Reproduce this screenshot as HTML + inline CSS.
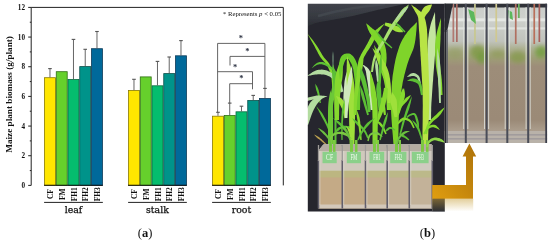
<!DOCTYPE html><html><head><meta charset="utf-8"><style>html,body{margin:0;padding:0;background:#fff;}svg{display:block;}</style></head><body>
<svg width="550" height="243" viewBox="0 0 550 243">
<rect width="550" height="243" fill="#fff"/>
<g stroke-width="0.8">
<rect x="44.50" y="77.70" width="10.95" height="107.70" fill="#FFE600" stroke="#8a7a00"/>
<rect x="56.25" y="71.70" width="10.95" height="113.70" fill="#66D02C" stroke="#2f6e14"/>
<rect x="68.00" y="79.50" width="10.95" height="105.90" fill="#05BD6E" stroke="#0a6a40"/>
<rect x="79.75" y="66.60" width="10.95" height="118.80" fill="#00938A" stroke="#0a4f4a"/>
<rect x="91.50" y="48.70" width="10.95" height="136.70" fill="#00699A" stroke="#0d3a58"/>
<rect x="128.50" y="90.50" width="10.95" height="94.90" fill="#FFE600" stroke="#8a7a00"/>
<rect x="140.25" y="76.90" width="10.95" height="108.50" fill="#66D02C" stroke="#2f6e14"/>
<rect x="152.00" y="85.80" width="10.95" height="99.60" fill="#05BD6E" stroke="#0a6a40"/>
<rect x="163.75" y="73.60" width="10.95" height="111.80" fill="#00938A" stroke="#0a4f4a"/>
<rect x="175.50" y="55.80" width="10.95" height="129.60" fill="#00699A" stroke="#0d3a58"/>
<rect x="212.50" y="116.20" width="10.95" height="69.20" fill="#FFE600" stroke="#8a7a00"/>
<rect x="224.25" y="115.50" width="10.95" height="69.90" fill="#66D02C" stroke="#2f6e14"/>
<rect x="236.00" y="111.80" width="10.95" height="73.60" fill="#05BD6E" stroke="#0a6a40"/>
<rect x="247.75" y="100.50" width="10.95" height="84.90" fill="#00938A" stroke="#0a4f4a"/>
<rect x="259.50" y="98.50" width="10.95" height="86.90" fill="#00699A" stroke="#0d3a58"/>
</g>
<g stroke="#111" stroke-width="1.1">
<line x1="44.10" y1="185.2" x2="102.85" y2="185.2"/>
<line x1="128.10" y1="185.2" x2="186.85" y2="185.2"/>
<line x1="212.10" y1="185.2" x2="270.85" y2="185.2"/>
</g>
<g stroke="#555" stroke-width="0.9" fill="none">
<line x1="49.98" y1="77.30" x2="49.98" y2="68.60"/>
<line x1="48.18" y1="68.60" x2="51.77" y2="68.60" stroke-width="1.1"/>
<line x1="73.47" y1="79.10" x2="73.47" y2="39.40"/>
<line x1="71.67" y1="39.40" x2="75.27" y2="39.40" stroke-width="1.1"/>
<line x1="85.22" y1="66.20" x2="85.22" y2="49.30"/>
<line x1="83.42" y1="49.30" x2="87.02" y2="49.30" stroke-width="1.1"/>
<line x1="96.97" y1="48.30" x2="96.97" y2="31.50"/>
<line x1="95.17" y1="31.50" x2="98.77" y2="31.50" stroke-width="1.1"/>
<line x1="133.97" y1="90.10" x2="133.97" y2="79.30"/>
<line x1="132.17" y1="79.30" x2="135.78" y2="79.30" stroke-width="1.1"/>
<line x1="157.47" y1="85.40" x2="157.47" y2="61.40"/>
<line x1="155.67" y1="61.40" x2="159.28" y2="61.40" stroke-width="1.1"/>
<line x1="169.22" y1="73.20" x2="169.22" y2="57.00"/>
<line x1="167.42" y1="57.00" x2="171.03" y2="57.00" stroke-width="1.1"/>
<line x1="180.97" y1="55.40" x2="180.97" y2="40.60"/>
<line x1="179.17" y1="40.60" x2="182.78" y2="40.60" stroke-width="1.1"/>
<line x1="217.97" y1="115.80" x2="217.97" y2="112.30"/>
<line x1="216.17" y1="112.30" x2="219.78" y2="112.30" stroke-width="1.1"/>
<line x1="229.72" y1="115.10" x2="229.72" y2="103.10"/>
<line x1="227.92" y1="103.10" x2="231.53" y2="103.10" stroke-width="1.1"/>
<line x1="241.47" y1="111.40" x2="241.47" y2="106.20"/>
<line x1="239.67" y1="106.20" x2="243.28" y2="106.20" stroke-width="1.1"/>
<line x1="253.22" y1="100.10" x2="253.22" y2="95.40"/>
<line x1="251.42" y1="95.40" x2="255.03" y2="95.40" stroke-width="1.1"/>
<line x1="264.98" y1="98.10" x2="264.98" y2="88.40"/>
<line x1="263.18" y1="88.40" x2="266.78" y2="88.40" stroke-width="1.1"/>
</g>
<g stroke="#222" stroke-width="1" fill="none">
<path d="M31.2,185.4 V7.4 H283.3 V185.4"/>
<line x1="28.2" y1="185.40" x2="31.2" y2="185.40"/>
<line x1="29.8" y1="170.57" x2="31.2" y2="170.57"/>
<line x1="28.2" y1="155.73" x2="31.2" y2="155.73"/>
<line x1="29.8" y1="140.90" x2="31.2" y2="140.90"/>
<line x1="28.2" y1="126.07" x2="31.2" y2="126.07"/>
<line x1="29.8" y1="111.23" x2="31.2" y2="111.23"/>
<line x1="28.2" y1="96.40" x2="31.2" y2="96.40"/>
<line x1="29.8" y1="81.57" x2="31.2" y2="81.57"/>
<line x1="28.2" y1="66.73" x2="31.2" y2="66.73"/>
<line x1="29.8" y1="51.90" x2="31.2" y2="51.90"/>
<line x1="28.2" y1="37.07" x2="31.2" y2="37.07"/>
<line x1="29.8" y1="22.23" x2="31.2" y2="22.23"/>
<line x1="28.2" y1="7.40" x2="31.2" y2="7.40"/>
</g>
<g font-family="Liberation Serif, serif" font-weight="bold" font-size="7.2" fill="#111" text-anchor="end">
<text x="25.0" y="187.90">0</text>
<text x="25.0" y="158.23">2</text>
<text x="25.0" y="128.57">4</text>
<text x="25.0" y="98.90">6</text>
<text x="25.0" y="69.23">8</text>
<text x="25.0" y="39.57">10</text>
<text x="25.0" y="9.90">12</text>
</g>
<text transform="translate(11.9,94.4) rotate(-90)" text-anchor="middle" font-family="Liberation Serif, serif" font-weight="bold" font-size="9.2" fill="#111">Maize plant biomass (g/plant)</text>
<g font-family="Liberation Serif, serif" font-weight="bold" font-size="7.4" fill="#111" text-anchor="middle">
<text transform="translate(53.08,194.2) rotate(-90)">CF</text>
<text transform="translate(64.83,194.2) rotate(-90)">FM</text>
<text transform="translate(76.57,194.2) rotate(-90)">FH1</text>
<text transform="translate(88.32,194.2) rotate(-90)">FH2</text>
<text transform="translate(100.07,194.2) rotate(-90)">FH3</text>
<text transform="translate(137.07,194.2) rotate(-90)">CF</text>
<text transform="translate(148.82,194.2) rotate(-90)">FM</text>
<text transform="translate(160.57,194.2) rotate(-90)">FH1</text>
<text transform="translate(172.32,194.2) rotate(-90)">FH2</text>
<text transform="translate(184.07,194.2) rotate(-90)">FH3</text>
<text transform="translate(221.07,194.2) rotate(-90)">CF</text>
<text transform="translate(232.82,194.2) rotate(-90)">FM</text>
<text transform="translate(244.57,194.2) rotate(-90)">FH1</text>
<text transform="translate(256.32,194.2) rotate(-90)">FH2</text>
<text transform="translate(268.08,194.2) rotate(-90)">FH3</text>
</g>
<g stroke="#222" stroke-width="1">
<line x1="44.10" y1="202.4" x2="102.85" y2="202.4"/>
<line x1="128.10" y1="202.4" x2="186.85" y2="202.4"/>
<line x1="212.10" y1="202.4" x2="270.85" y2="202.4"/>
</g>
<g font-family="DejaVu Serif, serif" font-size="9.4" fill="#111" stroke="#111" stroke-width="0.25" text-anchor="middle">
<text x="73.47" y="212.6">leaf</text>
<text x="157.47" y="212.6">stalk</text>
<text x="241.47" y="212.6">root</text>
</g>
<text x="222.9" y="15.9" font-family="Liberation Serif, serif" font-size="6.72" fill="#111">* Represents <tspan font-style="italic">p</tspan> &lt; 0.05</text>
<g stroke="#555" stroke-width="0.9" fill="none">
<path d="M217.6,112.3 V43.4 H264.9 V88.4"/>
<path d="M230.0,65.5 V56.4 H264.9"/>
<path d="M217.6,71.7 H252.5 V89.3"/>
<path d="M229.7,103.1 V83.7 H252.5"/>
</g>
<g font-family="Liberation Serif, serif" font-weight="bold" font-size="8.5" fill="#2a3040" text-anchor="middle">
<text x="240.8" y="41.0">*</text>
<text x="247.3" y="54.1">*</text>
<text x="235.1" y="69.5">*</text>
<text x="241.3" y="80.8">*</text>
</g>
<text x="137.8" y="237" font-family="Liberation Serif, serif" font-size="12.5" fill="#111">(<tspan font-weight="bold">a</tspan>)</text>
<text x="419.8" y="237" font-family="Liberation Serif, serif" font-size="12.5" fill="#111">(<tspan font-weight="bold">b</tspan>)</text>
<defs><clipPath id="cm"><rect x="307.8" y="3.7" width="137" height="207.8"/></clipPath><clipPath id="ci"><rect x="444.6" y="3.7" width="102.5" height="139.2"/></clipPath><linearGradient id="refl" x1="0" y1="0" x2="0" y2="1"><stop offset="0" stop-color="#e3cf9c"/><stop offset="1" stop-color="#ffffff"/></linearGradient><linearGradient id="refl2" x1="0" y1="0" x2="0" y2="1"><stop offset="0" stop-color="#7a6535"/><stop offset="1" stop-color="#2c2e33"/></linearGradient><linearGradient id="soil" x1="0" y1="0" x2="0" y2="1"><stop offset="0" stop-color="#cfc9bf"/><stop offset="0.3" stop-color="#c9c2b2"/><stop offset="0.42" stop-color="#bdb684"/><stop offset="0.55" stop-color="#c5b58e"/><stop offset="1" stop-color="#c2aa7e"/></linearGradient><linearGradient id="fold" x1="0" y1="0" x2="0" y2="1"><stop offset="0" stop-color="#41444c"/><stop offset="0.6" stop-color="#363940"/><stop offset="1" stop-color="#2a2c32"/></linearGradient><linearGradient id="arr" x1="1" y1="0" x2="0" y2="1"><stop offset="0" stop-color="#ad7209"/><stop offset="0.5" stop-color="#c4860c"/><stop offset="1" stop-color="#e09e10"/></linearGradient><linearGradient id="insg" x1="0" y1="3" x2="0" y2="144" gradientUnits="userSpaceOnUse"><stop offset="0" stop-color="#c9ccc8"/><stop offset="0.11" stop-color="#ced1cd"/><stop offset="0.27" stop-color="#c0c3bc"/><stop offset="0.32" stop-color="#aeb295"/><stop offset="0.39" stop-color="#9f9e78"/><stop offset="0.45" stop-color="#9d8d79"/><stop offset="0.83" stop-color="#9b8a77"/><stop offset="0.9" stop-color="#aa9c8b"/><stop offset="1" stop-color="#b5ada3"/></linearGradient><filter id="bl" x="-5%" y="-5%" width="110%" height="110%"><feGaussianBlur stdDeviation="0.45"/></filter><filter id="bl2" x="-50%" y="-50%" width="200%" height="200%"><feGaussianBlur stdDeviation="2.2"/></filter></defs>
<g clip-path="url(#cm)"><g filter="url(#bl)">
<rect x="307" y="3" width="140" height="210" fill="#25272d"/>
<path d="M307,3 H410 C395,6 380,9 365,13 C350,17 335,19 320,22 C314,23 310,25 307,27 Z" fill="url(#fold)"/>
<path d="M318,16 C335,11 355,7 385,4" stroke="#4a4e57" stroke-width="2.5" fill="none" opacity="0.6"/>
<path d="M333.0,51.0 L332.9,51.7 L332.8,52.6 L332.6,53.7 L332.5,54.9 L332.4,56.2 L332.4,57.5 L332.4,58.8 L332.4,60.0 L332.4,61.3 L332.5,62.7 L332.5,64.1 L332.5,65.6 L332.5,66.9 L332.6,68.2 L332.6,69.2 L332.6,70.0 L333.4,70.0 L333.4,69.2 L333.4,68.2 L333.5,66.9 L333.5,65.6 L333.5,64.1 L333.5,62.7 L333.6,61.3 L333.6,60.0 L333.6,58.8 L333.6,57.5 L333.6,56.2 L333.5,54.9 L333.4,53.7 L333.2,52.6 L333.1,51.7 L333.0,51.0Z" fill="#71907a"/>
<path d="M307.0,33.0 L307.5,34.0 L308.3,35.3 L309.2,36.8 L310.1,38.5 L311.2,40.4 L312.2,42.2 L313.2,43.9 L314.1,45.6 L314.9,47.1 L315.7,48.7 L316.6,50.3 L317.4,51.8 L318.2,53.4 L319.1,54.9 L319.9,56.4 L320.8,57.8 L321.8,59.1 L322.8,60.3 L323.7,61.3 L324.7,62.3 L325.5,63.3 L326.4,64.3 L327.1,65.4 L327.8,66.6 L328.4,68.0 L329.0,69.5 L329.6,71.1 L330.2,72.7 L330.6,74.4 L331.1,76.2 L331.4,78.1 L331.7,80.1 L331.9,82.4 L332.0,85.1 L332.0,87.9 L332.0,90.8 L331.9,93.7 L331.8,96.2 L331.8,98.4 L331.8,100.0 L334.2,100.0 L334.3,98.4 L334.4,96.3 L334.4,93.7 L334.5,90.9 L334.6,87.9 L334.6,85.0 L334.5,82.3 L334.3,79.9 L334.0,77.7 L333.6,75.7 L333.2,73.8 L332.7,71.9 L332.2,70.2 L331.6,68.5 L330.9,66.9 L330.2,65.4 L329.4,63.9 L328.6,62.7 L327.6,61.5 L326.7,60.4 L325.8,59.4 L324.9,58.4 L324.0,57.4 L323.2,56.2 L322.3,54.9 L321.5,53.5 L320.6,52.0 L319.7,50.5 L318.8,49.0 L317.9,47.5 L316.9,45.9 L315.9,44.4 L314.8,42.9 L313.6,41.3 L312.3,39.6 L311.0,38.0 L309.8,36.4 L308.6,35.0 L307.7,33.9 L307.0,33.0Z" fill="#86d92e"/>
<path d="M311.4,68.4 L311.9,68.1 L312.5,67.7 L313.3,67.2 L314.1,66.6 L315.0,66.0 L315.9,65.5 L316.7,65.1 L317.4,64.8 L318.1,64.6 L318.7,64.5 L319.3,64.3 L320.0,64.3 L320.6,64.2 L321.2,64.3 L321.8,64.3 L322.5,64.5 L323.3,64.7 L324.1,65.0 L325.0,65.3 L325.9,65.8 L326.8,66.3 L327.7,66.8 L328.6,67.3 L329.4,67.9 L330.2,68.4 L331.0,68.9 L331.7,69.5 L332.4,70.1 L333.1,70.7 L333.7,71.3 L334.2,72.0 L334.7,72.7 L335.2,73.5 L335.6,74.4 L336.0,75.5 L336.3,76.6 L336.6,77.7 L336.9,78.7 L337.1,79.6 L337.3,80.2 L338.7,79.8 L338.5,79.2 L338.3,78.4 L338.1,77.3 L337.9,76.2 L337.5,75.0 L337.2,73.9 L336.8,72.7 L336.3,71.7 L335.7,70.9 L335.1,70.1 L334.4,69.3 L333.7,68.6 L332.9,68.0 L332.2,67.3 L331.4,66.7 L330.6,66.1 L329.8,65.6 L328.9,65.0 L327.9,64.4 L326.9,63.8 L326.0,63.3 L325.0,62.8 L324.0,62.4 L323.1,62.1 L322.2,62.0 L321.3,61.9 L320.5,61.9 L319.6,62.0 L318.9,62.2 L318.1,62.5 L317.4,62.8 L316.6,63.2 L315.8,63.7 L315.0,64.4 L314.3,65.1 L313.5,65.9 L312.9,66.7 L312.3,67.4 L311.8,68.0 L311.4,68.4Z" fill="#5cbf34"/>
<path d="M315.2,83.6 L315.3,84.3 L315.4,85.2 L315.5,86.2 L315.7,87.4 L315.9,88.6 L316.2,89.9 L316.6,91.1 L317.0,92.3 L317.4,93.6 L317.7,95.0 L318.1,96.6 L318.5,98.2 L318.9,99.7 L319.2,101.1 L319.4,102.3 L319.7,103.1 L320.9,102.9 L320.8,102.0 L320.6,100.8 L320.4,99.4 L320.1,97.9 L319.9,96.2 L319.6,94.6 L319.3,93.1 L319.0,91.7 L318.7,90.5 L318.3,89.2 L317.8,88.0 L317.2,86.8 L316.6,85.8 L316.1,84.9 L315.6,84.2 L315.2,83.6Z" fill="#5cbf34"/>
<path d="M316.3,106.3 L316.6,107.0 L317.1,107.9 L317.6,108.9 L318.3,110.1 L318.9,111.4 L319.6,112.7 L320.3,114.1 L321.0,115.5 L321.8,117.1 L322.8,118.7 L323.8,120.5 L324.7,122.3 L325.7,124.2 L326.6,126.0 L327.3,127.7 L327.9,129.3 L328.4,130.8 L328.7,132.3 L328.9,133.9 L329.0,135.4 L329.1,136.8 L329.2,138.1 L329.2,139.2 L329.3,140.0 L330.7,140.0 L330.7,139.1 L330.6,138.1 L330.6,136.8 L330.6,135.3 L330.5,133.8 L330.4,132.1 L330.1,130.4 L329.7,128.7 L329.1,127.0 L328.4,125.2 L327.5,123.3 L326.6,121.4 L325.7,119.5 L324.7,117.7 L323.8,116.0 L323.0,114.5 L322.1,113.1 L321.1,111.8 L320.1,110.6 L319.2,109.5 L318.3,108.5 L317.5,107.6 L316.8,106.9 L316.3,106.3Z" fill="#5cbf34"/>
<path d="M330.5,90.0 L330.1,92.3 L329.5,95.4 L328.9,99.1 L328.4,103.2 L328.1,107.6 L328.0,111.9 L328.0,116.1 L328.0,120.0 L328.0,123.8 L328.0,127.8 L328.0,131.9 L328.0,135.9 L328.0,139.6 L328.0,143.0 L328.0,145.9 L328.0,148.0 L333.0,148.0 L333.0,145.9 L333.0,143.0 L333.0,139.6 L333.0,135.9 L333.0,131.9 L333.0,127.8 L333.0,123.8 L333.0,120.0 L333.0,116.1 L333.0,111.9 L332.9,107.6 L332.6,103.2 L332.1,99.1 L331.5,95.4 L330.9,92.3 L330.5,90.0Z" fill="#6cc935"/>
<path d="M335.5,100.0 L335.3,101.9 L335.1,104.5 L334.8,107.6 L334.6,111.1 L334.5,114.7 L334.5,118.3 L334.5,121.8 L334.5,125.0 L334.5,128.1 L334.5,131.4 L334.5,134.8 L334.5,138.1 L334.5,141.1 L334.5,143.9 L334.5,146.2 L334.5,148.0 L336.5,148.0 L336.5,146.2 L336.5,143.9 L336.5,141.1 L336.5,138.1 L336.5,134.8 L336.5,131.4 L336.5,128.1 L336.5,125.0 L336.5,121.8 L336.5,118.3 L336.5,114.7 L336.4,111.1 L336.2,107.6 L335.9,104.5 L335.7,101.9 L335.5,100.0Z" fill="#5cbf34"/>
<path d="M307.0,76.0 L307.9,75.9 L309.1,75.6 L310.6,75.4 L312.1,75.1 L313.8,74.8 L315.3,74.6 L316.8,74.4 L318.0,74.3 L319.2,74.3 L320.4,74.3 L321.5,74.4 L322.7,74.5 L323.8,74.6 L324.9,74.8 L326.0,75.1 L327.1,75.4 L328.3,76.0 L329.6,76.6 L330.9,77.4 L332.2,78.2 L333.4,79.1 L334.6,80.1 L335.7,81.1 L336.5,82.1 L337.3,83.1 L337.9,84.4 L338.5,85.9 L339.1,87.4 L339.6,88.9 L340.0,90.3 L340.3,91.5 L340.6,92.4 L343.4,91.6 L343.1,90.7 L342.9,89.6 L342.6,88.1 L342.2,86.5 L341.7,84.8 L341.1,83.1 L340.4,81.4 L339.5,79.9 L338.4,78.6 L337.2,77.3 L336.0,76.1 L334.6,75.0 L333.2,73.9 L331.7,72.9 L330.3,72.1 L328.9,71.4 L327.5,70.8 L326.0,70.3 L324.6,69.9 L323.1,69.7 L321.7,69.6 L320.3,69.7 L318.8,69.8 L317.4,70.1 L315.9,70.5 L314.3,71.2 L312.7,72.1 L311.3,73.0 L309.9,73.9 L308.7,74.8 L307.7,75.5 L307.0,76.0Z" fill="#b3dca0"/>
<path d="M323.0,96.0 L322.3,95.9 L321.5,95.7 L320.4,95.6 L319.3,95.5 L318.1,95.5 L316.9,95.5 L315.7,95.7 L314.7,95.9 L313.6,96.2 L312.5,96.4 L311.4,96.7 L310.3,97.0 L309.2,97.3 L308.2,97.5 L307.3,97.8 L306.5,98.0 L305.8,98.3 L305.2,98.6 L304.7,98.8 L304.2,99.1 L303.9,99.3 L303.6,99.5 L303.4,99.6 L303.3,99.7 L304.7,102.3 L305.0,102.2 L305.2,102.0 L305.5,101.8 L305.8,101.7 L306.1,101.5 L306.4,101.3 L306.9,101.1 L307.5,101.0 L308.2,100.7 L309.0,100.5 L310.0,100.3 L311.1,100.0 L312.1,99.8 L313.2,99.5 L314.3,99.3 L315.3,99.1 L316.4,98.8 L317.5,98.6 L318.6,98.2 L319.7,97.8 L320.7,97.3 L321.7,96.8 L322.4,96.3 L323.0,96.0Z" fill="#b3dca0"/>
<path d="M327.6,96.0 L327.0,96.0 L326.1,95.9 L325.1,95.9 L324.0,95.8 L322.8,95.8 L321.5,95.8 L320.3,96.0 L319.1,96.3 L318.1,96.6 L317.0,97.1 L316.0,97.6 L315.1,98.2 L314.1,98.8 L313.2,99.5 L312.4,100.2 L311.6,101.0 L310.8,101.9 L310.1,102.8 L309.5,103.8 L309.0,104.8 L308.4,105.7 L308.0,106.7 L307.5,107.7 L307.0,108.7 L306.6,109.7 L306.1,110.8 L305.7,111.9 L305.3,113.0 L304.9,114.0 L304.6,115.1 L304.3,116.0 L303.9,116.9 L303.6,117.8 L303.3,118.7 L303.0,119.6 L302.7,120.5 L302.5,121.3 L302.2,122.0 L302.1,122.5 L301.9,123.0 L308.1,125.0 L308.2,124.6 L308.4,124.0 L308.7,123.3 L308.9,122.5 L309.2,121.7 L309.5,120.8 L309.8,120.0 L310.1,119.1 L310.4,118.2 L310.7,117.2 L311.1,116.2 L311.4,115.2 L311.8,114.2 L312.2,113.2 L312.6,112.2 L313.0,111.3 L313.4,110.5 L313.8,109.6 L314.2,108.7 L314.7,107.9 L315.1,107.1 L315.5,106.4 L316.0,105.7 L316.4,105.0 L316.9,104.3 L317.4,103.6 L317.9,102.9 L318.5,102.2 L319.1,101.6 L319.6,100.9 L320.3,100.3 L320.9,99.7 L321.5,99.2 L322.4,98.6 L323.4,98.1 L324.4,97.6 L325.4,97.1 L326.3,96.7 L327.0,96.3 L327.6,96.0Z" fill="#b3dca0"/>
<path d="M314.0,134.6 L314.4,135.0 L314.9,135.6 L315.5,136.3 L316.2,137.0 L317.0,137.7 L317.8,138.4 L318.6,139.0 L319.5,139.6 L320.3,140.3 L321.2,141.1 L322.2,141.9 L323.2,142.7 L324.1,143.5 L324.9,144.2 L325.6,144.8 L326.1,145.2 L326.9,144.4 L326.4,143.9 L325.7,143.3 L324.9,142.5 L324.1,141.7 L323.2,140.8 L322.2,139.9 L321.4,139.1 L320.5,138.4 L319.7,137.7 L318.9,137.0 L317.9,136.4 L317.0,135.9 L316.1,135.4 L315.3,135.1 L314.5,134.8 L314.0,134.6Z" fill="#bba050"/>
<path d="M333.0,118.0 L333.5,118.6 L334.1,119.3 L334.8,120.2 L335.6,121.2 L336.5,122.2 L337.4,123.2 L338.3,124.1 L339.2,124.9 L340.0,125.6 L340.8,126.3 L341.6,127.0 L342.4,127.7 L343.2,128.4 L343.9,129.1 L344.5,129.8 L345.2,130.6 L345.8,131.5 L346.4,132.5 L347.0,133.6 L347.6,134.7 L348.1,135.8 L348.6,136.8 L349.0,137.7 L349.3,138.3 L350.7,137.7 L350.4,137.1 L350.1,136.2 L349.6,135.2 L349.2,134.0 L348.6,132.8 L348.1,131.6 L347.5,130.5 L346.8,129.4 L346.2,128.5 L345.5,127.6 L344.7,126.8 L344.0,126.1 L343.2,125.3 L342.4,124.6 L341.6,123.8 L340.8,123.1 L339.9,122.3 L338.9,121.5 L337.8,120.7 L336.6,120.0 L335.5,119.4 L334.5,118.8 L333.6,118.3 L333.0,118.0Z" fill="#5cbf34"/>
<path d="M333.0,135.0 L333.7,134.5 L334.5,133.9 L335.6,133.1 L336.7,132.2 L337.8,131.3 L338.8,130.4 L339.8,129.6 L340.6,129.1 L341.4,128.7 L342.3,128.3 L343.2,128.1 L344.2,128.0 L345.1,127.9 L346.1,127.8 L347.0,127.9 L347.8,127.9 L348.6,128.1 L349.4,128.4 L350.3,128.7 L351.1,129.2 L351.8,129.6 L352.5,130.0 L353.2,130.4 L353.6,130.6 L354.4,129.4 L354.0,129.1 L353.4,128.7 L352.7,128.2 L351.9,127.7 L351.1,127.2 L350.1,126.7 L349.2,126.3 L348.2,126.1 L347.2,125.9 L346.2,125.8 L345.1,125.8 L344.0,125.8 L342.8,125.9 L341.7,126.1 L340.5,126.5 L339.4,126.9 L338.3,127.6 L337.2,128.6 L336.2,129.7 L335.3,130.9 L334.6,132.2 L333.9,133.3 L333.4,134.3 L333.0,135.0Z" fill="#5cbf34"/>
<path d="M343.0,62.0 L342.5,62.7 L341.9,63.5 L341.1,64.6 L340.2,65.8 L339.4,67.1 L338.5,68.4 L337.6,69.8 L336.9,71.2 L336.2,72.7 L335.5,74.2 L334.9,75.7 L334.3,77.4 L333.9,79.1 L333.4,80.8 L333.0,82.6 L332.6,84.4 L332.2,86.3 L331.9,88.2 L331.5,90.2 L331.2,92.3 L330.9,94.3 L330.6,96.2 L330.3,98.0 L330.1,99.7 L330.0,101.3 L329.8,102.9 L329.7,104.4 L329.7,105.8 L329.6,107.1 L329.6,108.2 L329.5,109.1 L329.5,109.9 L332.5,110.1 L332.6,109.4 L332.7,108.4 L332.8,107.3 L333.0,106.1 L333.1,104.7 L333.3,103.3 L333.6,101.8 L333.9,100.3 L334.2,98.7 L334.6,96.9 L335.0,95.0 L335.4,93.1 L335.9,91.2 L336.4,89.2 L336.9,87.4 L337.4,85.6 L337.9,83.9 L338.4,82.3 L339.0,80.6 L339.6,79.0 L340.0,77.4 L340.5,75.8 L340.8,74.3 L341.1,72.8 L341.4,71.2 L341.7,69.7 L342.0,68.1 L342.3,66.6 L342.5,65.2 L342.7,63.9 L342.9,62.8 L343.0,62.0Z" fill="#6cc838"/>
<path d="M333.0,64.0 L332.9,64.8 L332.7,65.9 L332.6,67.2 L332.4,68.6 L332.3,70.2 L332.2,71.9 L332.1,73.5 L332.1,75.2 L332.3,76.9 L332.5,78.7 L332.8,80.6 L333.1,82.5 L333.4,84.5 L333.7,86.4 L334.0,88.3 L334.2,90.2 L334.4,92.1 L334.6,94.2 L334.8,96.4 L335.0,98.5 L335.2,100.6 L335.3,102.4 L335.4,103.9 L335.5,105.1 L338.5,104.9 L338.4,103.8 L338.4,102.2 L338.3,100.4 L338.2,98.3 L338.2,96.2 L338.0,94.0 L337.9,91.8 L337.8,89.8 L337.6,87.9 L337.4,85.9 L337.2,83.9 L336.9,82.0 L336.7,80.1 L336.4,78.2 L336.2,76.4 L335.9,74.8 L335.5,73.2 L335.1,71.6 L334.7,70.0 L334.3,68.5 L333.9,67.1 L333.6,65.8 L333.2,64.8 L333.0,64.0Z" fill="#5cbf34"/>
<path d="M342.0,57.0 L341.6,58.0 L341.1,59.2 L340.5,60.7 L339.8,62.4 L339.1,64.1 L338.4,66.0 L337.8,67.8 L337.2,69.6 L336.7,71.3 L336.3,73.1 L335.9,74.9 L335.5,76.7 L335.2,78.6 L335.0,80.6 L334.9,82.6 L334.7,84.7 L334.6,86.8 L334.5,89.1 L334.4,91.3 L334.3,93.7 L334.2,96.0 L334.2,98.4 L334.2,100.7 L334.2,102.9 L334.2,105.3 L334.3,107.7 L334.4,110.2 L334.6,112.7 L334.7,115.0 L334.8,117.0 L334.9,118.7 L335.0,120.0 L339.0,120.0 L339.0,118.6 L339.0,116.9 L339.1,114.9 L339.1,112.6 L339.1,110.2 L339.2,107.7 L339.3,105.3 L339.4,103.1 L339.6,100.9 L339.8,98.6 L340.0,96.4 L340.2,94.1 L340.5,91.8 L340.7,89.6 L341.0,87.4 L341.3,85.3 L341.5,83.3 L341.8,81.4 L342.2,79.5 L342.4,77.7 L342.6,75.8 L342.7,74.0 L342.8,72.2 L342.8,70.4 L342.8,68.6 L342.7,66.6 L342.6,64.7 L342.5,62.8 L342.3,61.0 L342.2,59.4 L342.1,58.0 L342.0,57.0Z" fill="#86d92e"/>
<path d="M340.0,80.0 L340.3,78.9 L340.6,77.4 L341.0,75.6 L341.4,73.6 L341.8,71.6 L342.3,69.6 L342.7,67.8 L343.1,66.3 L343.5,65.1 L343.9,63.8 L344.2,62.7 L344.6,61.7 L345.0,60.9 L345.4,60.2 L345.7,59.7 L345.9,59.4 L346.2,59.2 L346.5,59.1 L346.8,59.0 L347.2,58.9 L347.5,58.9 L347.8,58.9 L348.1,59.0 L348.4,59.1 L348.7,59.5 L349.3,60.1 L349.8,60.9 L350.4,61.9 L351.0,63.0 L351.6,64.2 L352.1,65.4 L352.5,66.7 L352.9,68.1 L353.3,69.6 L353.5,71.2 L353.8,72.9 L354.0,74.7 L354.2,76.5 L354.4,78.4 L354.6,80.2 L354.8,82.0 L355.0,83.9 L355.2,85.7 L355.3,87.6 L355.5,89.5 L355.6,91.3 L355.7,93.2 L355.8,95.1 L355.9,97.0 L355.9,99.1 L356.0,101.3 L356.0,103.4 L356.0,105.5 L356.0,107.3 L356.0,108.8 L356.0,110.0 L360.0,110.0 L360.0,108.9 L360.1,107.3 L360.1,105.5 L360.1,103.5 L360.2,101.3 L360.2,99.1 L360.2,96.9 L360.2,94.9 L360.1,93.0 L360.1,91.1 L360.0,89.2 L359.9,87.3 L359.8,85.4 L359.7,83.5 L359.5,81.6 L359.4,79.8 L359.2,77.9 L359.1,76.1 L358.9,74.2 L358.7,72.3 L358.5,70.5 L358.2,68.7 L357.9,66.9 L357.5,65.3 L357.0,63.7 L356.4,62.2 L355.8,60.7 L355.1,59.3 L354.3,58.0 L353.5,56.8 L352.6,55.8 L351.6,54.9 L350.5,54.1 L349.2,53.6 L347.9,53.4 L346.6,53.4 L345.3,53.7 L344.2,54.1 L343.1,54.7 L342.1,55.6 L341.3,56.6 L340.6,57.7 L340.1,58.9 L339.8,60.1 L339.5,61.4 L339.2,62.8 L339.1,64.2 L338.9,65.7 L338.9,67.4 L338.9,69.3 L339.0,71.4 L339.2,73.5 L339.5,75.5 L339.7,77.3 L339.9,78.9 L340.0,80.0Z" fill="#6ccc2a"/>
<path d="M349.4,65.5 L349.0,66.6 L348.4,68.0 L347.7,69.7 L347.0,71.6 L346.3,73.6 L345.7,75.7 L345.2,77.7 L344.8,79.7 L344.5,81.6 L344.3,83.4 L344.2,85.3 L344.0,87.2 L343.8,89.1 L343.7,91.1 L343.6,93.0 L343.5,94.9 L343.4,96.9 L343.4,99.1 L343.5,101.3 L343.5,103.4 L343.5,105.5 L343.6,107.3 L343.6,108.8 L343.7,110.0 L346.3,110.0 L346.4,108.9 L346.5,107.3 L346.5,105.5 L346.6,103.5 L346.7,101.3 L346.8,99.1 L346.9,97.1 L347.1,95.1 L347.3,93.3 L347.5,91.4 L347.8,89.6 L348.1,87.7 L348.3,85.9 L348.6,84.0 L348.9,82.2 L349.2,80.3 L349.4,78.4 L349.6,76.3 L349.6,74.2 L349.6,72.0 L349.6,70.0 L349.5,68.2 L349.5,66.7 L349.4,65.5Z" fill="#cfe8bd"/>
<path d="M361.7,64.5 L361.9,64.7 L362.2,65.0 L362.6,65.4 L362.9,65.8 L363.3,66.2 L363.7,66.7 L364.0,67.1 L364.3,67.6 L364.6,68.1 L364.9,68.7 L365.1,69.2 L365.3,69.7 L365.5,70.2 L365.7,70.8 L365.9,71.5 L366.0,72.3 L366.2,73.3 L366.3,74.4 L366.5,75.5 L366.7,76.8 L366.9,78.1 L367.1,79.5 L367.4,80.9 L367.6,82.3 L367.8,83.7 L368.0,85.2 L368.2,86.8 L368.4,88.4 L368.5,90.0 L368.7,91.7 L368.9,93.4 L369.0,95.1 L369.2,97.0 L369.4,99.1 L369.6,101.3 L369.9,103.4 L370.1,105.5 L370.2,107.4 L370.4,108.9 L370.5,110.1 L373.5,109.9 L373.5,108.7 L373.4,107.2 L373.3,105.3 L373.3,103.2 L373.2,101.0 L373.1,98.8 L373.0,96.7 L373.0,94.9 L372.9,93.1 L372.9,91.4 L372.8,89.7 L372.8,88.1 L372.7,86.4 L372.6,84.8 L372.5,83.2 L372.4,81.7 L372.2,80.2 L372.0,78.7 L371.8,77.2 L371.5,75.9 L371.1,74.5 L370.7,73.3 L370.2,72.1 L369.8,71.1 L369.3,70.1 L368.8,69.3 L368.2,68.6 L367.7,68.1 L367.2,67.6 L366.7,67.1 L366.2,66.7 L365.7,66.4 L365.1,66.0 L364.6,65.6 L364.0,65.4 L363.4,65.1 L362.9,64.9 L362.4,64.8 L362.0,64.6 L361.7,64.5Z" fill="#cfe8bd"/>
<path d="M374.0,45.0 L374.2,46.0 L374.4,47.3 L374.7,48.8 L375.1,50.5 L375.5,52.4 L375.9,54.2 L376.3,56.1 L376.7,57.9 L377.1,59.7 L377.6,61.6 L378.2,63.6 L378.8,65.5 L379.4,67.5 L380.1,69.3 L380.8,71.1 L381.3,72.7 L381.9,74.1 L382.3,75.4 L382.7,76.6 L383.0,77.7 L383.4,78.8 L383.7,80.0 L384.0,81.2 L384.2,82.5 L384.5,83.9 L384.8,85.4 L385.0,86.9 L385.2,88.5 L385.4,90.1 L385.6,91.8 L385.8,93.4 L386.0,95.2 L386.1,97.0 L386.3,99.1 L386.5,101.2 L386.6,103.4 L386.7,105.5 L386.8,107.3 L386.9,108.9 L387.0,110.1 L391.0,109.9 L391.0,108.8 L391.0,107.2 L391.0,105.3 L391.0,103.2 L391.0,101.1 L390.9,98.9 L390.9,96.7 L390.8,94.8 L390.7,93.1 L390.7,91.3 L390.6,89.6 L390.4,87.9 L390.3,86.3 L390.2,84.7 L390.0,83.1 L389.8,81.5 L389.5,80.1 L389.3,78.7 L389.0,77.4 L388.7,76.2 L388.4,74.9 L388.1,73.6 L387.7,72.3 L387.3,70.7 L386.8,69.1 L386.2,67.2 L385.5,65.3 L384.8,63.4 L384.0,61.4 L383.1,59.6 L382.2,57.8 L381.3,56.1 L380.4,54.5 L379.4,52.8 L378.3,51.2 L377.2,49.6 L376.2,48.2 L375.3,46.9 L374.6,45.8 L374.0,45.0Z" fill="#86d92e"/>
<path d="M376.0,59.0 L375.8,59.9 L375.6,61.0 L375.4,62.4 L375.2,63.9 L375.2,65.4 L375.2,67.1 L375.4,68.6 L375.6,70.1 L375.8,71.6 L376.0,73.3 L376.2,75.1 L376.5,76.8 L376.7,78.4 L376.8,79.9 L377.0,81.1 L377.1,82.1 L378.9,81.9 L378.9,81.0 L378.8,79.7 L378.7,78.2 L378.7,76.6 L378.6,74.9 L378.5,73.1 L378.4,71.4 L378.4,69.9 L378.3,68.4 L378.2,66.8 L378.0,65.2 L377.6,63.6 L377.2,62.2 L376.7,60.9 L376.3,59.8 L376.0,59.0Z" fill="#b3dca0"/>
<path d="M404.0,88.0 L403.5,88.7 L402.9,89.7 L402.1,90.9 L401.4,92.2 L400.7,93.5 L400.2,94.9 L399.8,96.3 L399.6,97.5 L399.4,98.6 L399.3,99.6 L399.1,100.7 L398.9,101.7 L398.7,102.6 L398.5,103.6 L398.3,104.5 L398.1,105.5 L397.9,106.5 L397.7,107.5 L397.5,108.5 L397.3,109.5 L397.0,110.5 L396.8,111.3 L396.7,112.0 L396.6,112.6 L399.4,113.4 L399.6,112.9 L399.9,112.2 L400.2,111.4 L400.5,110.5 L400.8,109.5 L401.2,108.5 L401.5,107.5 L401.9,106.5 L402.2,105.6 L402.5,104.6 L402.8,103.7 L403.1,102.7 L403.4,101.7 L403.7,100.7 L404.1,99.6 L404.4,98.5 L404.7,97.3 L404.9,95.9 L405.0,94.4 L404.9,92.8 L404.7,91.4 L404.4,90.0 L404.2,88.9 L404.0,88.0Z" fill="#86d92e"/>
<path d="M336.0,96.0 L336.2,96.4 L336.4,97.0 L336.7,97.6 L337.1,98.3 L337.4,99.0 L337.7,99.7 L338.0,100.5 L338.2,101.2 L338.5,102.0 L338.9,102.9 L339.4,103.8 L340.0,104.7 L340.5,105.7 L341.0,106.7 L341.5,107.7 L342.0,108.7 L342.4,109.7 L342.8,111.0 L343.1,112.4 L343.5,113.8 L343.8,115.2 L344.1,116.4 L344.3,117.5 L344.5,118.3 L347.5,117.7 L347.4,117.0 L347.3,115.9 L347.2,114.6 L347.0,113.2 L346.8,111.7 L346.6,110.2 L346.3,108.7 L346.0,107.3 L345.7,106.1 L345.2,104.9 L344.8,103.7 L344.3,102.5 L343.8,101.4 L343.2,100.4 L342.5,99.6 L341.8,98.8 L341.0,98.1 L340.1,97.5 L339.2,97.1 L338.4,96.7 L337.7,96.5 L337.0,96.3 L336.4,96.1 L336.0,96.0Z" fill="#9fe03a"/>
<path d="M380.0,96.0 L380.0,96.7 L380.0,97.6 L380.1,98.6 L380.2,99.8 L380.4,101.0 L380.6,102.2 L381.0,103.3 L381.4,104.4 L381.8,105.6 L382.1,107.1 L382.5,108.6 L382.9,110.2 L383.2,111.7 L383.5,113.1 L383.8,114.3 L384.0,115.2 L386.0,114.8 L385.9,114.0 L385.8,112.8 L385.7,111.4 L385.5,109.8 L385.3,108.1 L385.1,106.5 L384.9,105.0 L384.6,103.6 L384.3,102.3 L383.9,101.0 L383.3,99.9 L382.6,98.8 L381.8,97.9 L381.1,97.1 L380.5,96.5 L380.0,96.0Z" fill="#86d92e"/>
<path d="M378.0,80.0 L377.6,81.2 L377.2,82.8 L376.7,84.6 L376.4,86.7 L376.2,88.9 L376.3,91.1 L376.5,93.2 L376.7,95.2 L377.0,97.1 L377.2,99.2 L377.5,101.4 L377.7,103.6 L378.0,105.6 L378.2,107.4 L378.4,108.9 L378.5,110.1 L381.5,109.9 L381.5,108.7 L381.5,107.2 L381.4,105.4 L381.4,103.3 L381.4,101.2 L381.3,99.0 L381.3,96.8 L381.3,94.8 L381.2,92.9 L381.2,90.7 L381.0,88.6 L380.5,86.4 L379.9,84.4 L379.2,82.6 L378.5,81.1 L378.0,80.0Z" fill="#5cbf34"/>
<path d="M407.0,77.0 L407.6,76.9 L408.3,76.8 L409.2,76.6 L410.1,76.5 L411.0,76.3 L411.9,76.1 L412.6,76.0 L413.0,76.0 L413.5,76.0 L414.1,76.1 L414.6,76.2 L415.1,76.4 L415.7,76.7 L416.2,77.0 L416.6,77.3 L417.0,77.7 L417.3,78.2 L417.7,79.0 L418.0,79.9 L418.3,80.9 L418.5,81.9 L418.8,82.8 L419.0,83.6 L419.1,84.2 L420.9,83.8 L420.8,83.2 L420.7,82.5 L420.5,81.5 L420.3,80.4 L420.1,79.3 L419.9,78.2 L419.5,77.2 L419.0,76.3 L418.4,75.6 L417.8,74.9 L417.1,74.4 L416.4,73.9 L415.6,73.5 L414.7,73.3 L413.9,73.1 L413.0,73.0 L412.0,73.2 L411.0,73.6 L410.1,74.1 L409.3,74.7 L408.5,75.4 L407.9,76.1 L407.4,76.6 L407.0,77.0Z" fill="#b3dca0"/>
<path d="M347.0,56.0 L347.0,57.1 L346.9,58.4 L346.9,60.1 L346.8,61.9 L346.8,63.9 L346.7,66.0 L346.7,68.1 L346.6,70.3 L346.6,72.5 L346.6,74.9 L346.6,77.4 L346.6,80.0 L346.7,82.6 L346.9,85.2 L347.1,87.8 L347.3,90.3 L347.5,92.6 L347.8,94.8 L348.0,96.9 L348.2,99.1 L348.3,101.3 L348.5,103.8 L348.6,106.7 L348.8,110.1 L349.0,114.2 L349.1,119.1 L349.2,124.6 L349.4,130.2 L349.5,135.7 L349.6,140.7 L349.7,144.9 L349.8,148.0 L354.2,148.0 L354.3,145.0 L354.5,140.8 L354.6,135.8 L354.8,130.3 L354.9,124.6 L355.0,119.1 L355.1,114.1 L355.2,109.9 L355.2,106.6 L355.2,103.6 L355.2,101.0 L355.1,98.7 L355.0,96.5 L354.9,94.3 L354.8,92.1 L354.7,89.7 L354.5,87.1 L354.3,84.5 L353.9,81.9 L353.5,79.3 L353.0,76.7 L352.5,74.3 L351.9,71.9 L351.4,69.7 L350.8,67.6 L350.2,65.5 L349.5,63.5 L348.9,61.6 L348.3,59.9 L347.8,58.3 L347.3,57.0 L347.0,56.0Z" fill="#9fe03a"/>
<path d="M363.5,50.5 L363.3,51.2 L363.0,52.0 L362.7,53.1 L362.4,54.2 L362.0,55.5 L361.5,56.9 L361.1,58.3 L360.6,59.7 L360.2,61.3 L359.6,62.9 L359.1,64.6 L358.6,66.4 L358.1,68.3 L357.6,70.3 L357.2,72.4 L356.8,74.6 L356.5,76.9 L356.1,79.3 L355.8,81.8 L355.4,84.4 L355.1,87.0 L354.7,89.6 L354.5,92.2 L354.2,94.8 L354.1,97.5 L353.9,100.4 L353.8,103.3 L353.8,106.2 L353.7,108.9 L353.7,111.4 L353.7,113.4 L353.7,114.9 L356.3,115.1 L356.4,113.5 L356.6,111.5 L356.7,109.0 L356.8,106.3 L357.0,103.5 L357.2,100.6 L357.5,97.8 L357.8,95.2 L358.1,92.7 L358.5,90.1 L358.9,87.6 L359.3,85.0 L359.8,82.5 L360.3,80.0 L360.7,77.6 L361.2,75.4 L361.6,73.3 L362.0,71.2 L362.3,69.2 L362.6,67.3 L362.9,65.4 L363.1,63.6 L363.2,61.9 L363.4,60.3 L363.4,58.7 L363.5,57.2 L363.5,55.7 L363.5,54.4 L363.5,53.2 L363.5,52.1 L363.5,51.2 L363.5,50.5Z" fill="#86d92e"/>
<path d="M358.4,63.3 L358.5,64.2 L358.6,65.5 L358.8,66.9 L359.0,68.5 L359.2,70.2 L359.5,72.0 L359.8,73.8 L360.1,75.6 L360.4,77.3 L360.9,79.2 L361.4,81.1 L362.0,83.0 L362.5,84.9 L363.1,86.8 L363.6,88.7 L364.1,90.5 L364.5,92.2 L365.0,93.9 L365.4,95.6 L365.8,97.2 L366.2,98.8 L366.5,100.4 L366.8,101.8 L367.0,103.2 L367.2,104.5 L367.3,105.8 L367.4,107.1 L367.5,108.3 L367.6,109.5 L367.6,110.5 L367.6,111.4 L367.7,112.0 L370.3,112.0 L370.4,111.3 L370.4,110.5 L370.4,109.4 L370.4,108.3 L370.4,107.0 L370.4,105.6 L370.3,104.2 L370.2,102.8 L370.0,101.3 L369.8,99.8 L369.5,98.2 L369.3,96.5 L369.0,94.8 L368.6,93.1 L368.3,91.3 L367.9,89.5 L367.5,87.7 L367.1,85.8 L366.6,83.8 L366.2,81.9 L365.7,79.9 L365.2,78.0 L364.6,76.1 L363.9,74.4 L363.2,72.8 L362.5,71.1 L361.7,69.5 L360.9,67.9 L360.1,66.5 L359.4,65.2 L358.9,64.1 L358.4,63.3Z" fill="#5cbf34"/>
<path d="M352.0,65.8 L351.7,66.8 L351.2,68.1 L350.7,69.6 L350.1,71.3 L349.6,73.2 L349.0,75.3 L348.4,77.4 L347.9,79.7 L347.4,82.2 L347.1,85.0 L346.7,88.0 L346.4,91.2 L346.1,94.3 L345.8,97.4 L345.5,100.2 L345.3,102.8 L345.1,105.2 L345.0,107.5 L344.9,109.8 L344.8,111.9 L344.8,113.8 L344.7,115.4 L344.7,116.8 L344.7,117.9 L347.3,118.1 L347.4,117.0 L347.5,115.6 L347.7,113.9 L347.8,112.0 L348.0,110.0 L348.2,107.8 L348.4,105.5 L348.7,103.2 L349.1,100.7 L349.5,97.8 L350.0,94.8 L350.5,91.7 L351.0,88.6 L351.5,85.6 L351.9,82.8 L352.1,80.3 L352.2,78.0 L352.3,75.7 L352.3,73.6 L352.2,71.6 L352.2,69.8 L352.1,68.2 L352.1,66.9 L352.0,65.8Z" fill="#cfe8bd"/>
<path d="M345.0,98.0 L344.7,98.9 L344.4,100.0 L344.0,101.4 L343.6,103.0 L343.1,104.6 L342.7,106.4 L342.3,108.2 L342.0,109.9 L341.8,111.6 L341.7,113.5 L341.6,115.3 L341.4,117.3 L341.4,119.2 L341.3,121.1 L341.2,123.1 L341.2,125.0 L341.2,127.0 L341.2,129.1 L341.2,131.3 L341.2,133.4 L341.3,135.5 L341.3,137.3 L341.4,138.8 L341.4,140.0 L342.6,140.0 L342.6,138.8 L342.6,137.3 L342.6,135.5 L342.6,133.4 L342.7,131.3 L342.7,129.1 L342.7,127.0 L342.8,125.0 L342.9,123.1 L343.0,121.2 L343.2,119.3 L343.3,117.4 L343.5,115.5 L343.6,113.6 L343.8,111.8 L344.0,110.1 L344.1,108.4 L344.3,106.6 L344.4,104.9 L344.6,103.2 L344.7,101.6 L344.8,100.1 L344.9,98.9 L345.0,98.0Z" fill="#5cbf34"/>
<path d="M352.0,118.0 L352.4,118.6 L352.8,119.3 L353.4,120.2 L354.1,121.2 L354.8,122.2 L355.6,123.2 L356.3,124.1 L357.1,124.9 L357.9,125.7 L358.7,126.4 L359.5,127.1 L360.3,127.7 L361.1,128.4 L361.8,129.1 L362.5,129.8 L363.1,130.6 L363.7,131.5 L364.4,132.5 L365.0,133.6 L365.6,134.8 L366.1,135.8 L366.6,136.9 L367.0,137.7 L367.3,138.3 L368.7,137.7 L368.4,137.0 L368.1,136.2 L367.7,135.1 L367.2,134.0 L366.7,132.8 L366.1,131.6 L365.5,130.4 L364.9,129.4 L364.2,128.5 L363.5,127.6 L362.7,126.8 L361.9,126.0 L361.2,125.3 L360.4,124.5 L359.6,123.8 L358.9,123.1 L358.1,122.3 L357.2,121.6 L356.2,120.8 L355.2,120.1 L354.2,119.4 L353.3,118.8 L352.6,118.4 L352.0,118.0Z" fill="#5cbf34"/>
<path d="M356.0,108.0 L356.1,109.1 L356.2,110.5 L356.3,112.2 L356.5,114.1 L356.7,116.1 L357.0,118.1 L357.4,120.2 L357.8,122.2 L358.2,124.3 L358.6,126.8 L358.9,129.4 L359.2,132.0 L359.6,134.5 L359.8,136.8 L360.1,138.7 L360.3,140.1 L361.7,139.9 L361.6,138.5 L361.5,136.6 L361.3,134.3 L361.1,131.8 L360.9,129.1 L360.7,126.5 L360.4,124.0 L360.2,121.8 L359.9,119.7 L359.5,117.6 L358.9,115.6 L358.3,113.7 L357.6,111.9 L357.0,110.3 L356.4,109.0 L356.0,108.0Z" fill="#86d92e"/>
<path d="M346.0,126.0 L346.2,126.5 L346.5,127.1 L346.9,127.8 L347.2,128.6 L347.6,129.5 L348.0,130.4 L348.4,131.4 L348.8,132.4 L349.3,133.7 L349.8,135.3 L350.3,137.2 L350.8,139.1 L351.2,141.0 L351.7,142.7 L352.0,144.1 L352.3,145.2 L353.7,144.8 L353.5,143.8 L353.3,142.3 L353.0,140.6 L352.7,138.7 L352.4,136.7 L352.0,134.8 L351.6,133.0 L351.2,131.6 L350.6,130.4 L349.9,129.3 L349.2,128.4 L348.4,127.7 L347.6,127.2 L347.0,126.7 L346.4,126.3 L346.0,126.0Z" fill="#9fe03a"/>
<path d="M385.0,23.5 L384.6,23.8 L384.0,24.1 L383.3,24.5 L382.5,25.0 L381.7,25.5 L380.8,26.1 L380.0,26.7 L379.2,27.2 L378.5,27.8 L377.8,28.4 L377.1,28.9 L376.4,29.6 L375.6,30.3 L374.9,31.0 L374.1,31.9 L373.3,32.9 L372.5,34.1 L371.7,35.4 L370.9,36.8 L370.1,38.2 L369.3,39.7 L368.6,41.2 L367.9,42.6 L367.2,43.9 L366.4,45.2 L365.7,46.6 L364.9,47.9 L364.1,49.2 L363.3,50.5 L362.6,51.7 L361.9,52.9 L361.3,54.1 L360.8,55.1 L360.4,55.9 L360.0,56.7 L359.6,57.5 L359.2,58.4 L358.9,59.3 L358.6,60.4 L358.3,61.6 L358.0,63.1 L357.7,64.9 L357.5,66.8 L357.2,68.7 L357.0,70.6 L356.8,72.3 L356.6,73.8 L356.5,74.8 L359.5,75.2 L359.7,74.2 L359.9,72.7 L360.1,71.0 L360.4,69.2 L360.7,67.3 L361.1,65.4 L361.4,63.8 L361.7,62.4 L362.0,61.4 L362.3,60.5 L362.6,59.7 L362.9,59.1 L363.3,58.4 L363.7,57.7 L364.1,56.9 L364.7,55.9 L365.3,54.9 L366.0,53.7 L366.7,52.5 L367.5,51.3 L368.4,50.0 L369.2,48.7 L370.0,47.4 L370.8,46.1 L371.7,44.7 L372.5,43.2 L373.3,41.8 L374.1,40.3 L374.8,38.9 L375.5,37.5 L376.1,36.2 L376.7,35.1 L377.2,34.1 L377.8,33.2 L378.3,32.4 L378.7,31.6 L379.2,30.9 L379.7,30.2 L380.3,29.5 L380.8,28.8 L381.3,28.0 L381.9,27.3 L382.5,26.5 L383.1,25.7 L383.7,25.0 L384.2,24.4 L384.7,23.9 L385.0,23.5Z" fill="#86d92e"/>
<path d="M366.0,23.0 L366.2,23.5 L366.4,24.3 L366.6,25.1 L366.9,26.1 L367.3,27.1 L367.6,28.2 L368.0,29.2 L368.4,30.2 L368.9,31.1 L369.3,32.0 L369.8,32.9 L370.4,33.8 L370.9,34.6 L371.4,35.4 L371.9,36.2 L372.4,37.0 L373.0,37.9 L373.6,38.8 L374.2,39.6 L374.8,40.5 L375.5,41.3 L376.1,42.0 L376.6,42.8 L377.1,43.6 L377.6,44.4 L378.0,45.2 L378.4,46.1 L378.8,46.9 L379.2,47.8 L379.5,48.7 L379.8,49.6 L380.1,50.6 L380.4,51.7 L380.6,52.8 L380.8,53.9 L381.0,55.0 L381.2,56.2 L381.3,57.4 L381.4,58.7 L381.5,60.0 L381.5,61.4 L381.5,63.0 L381.4,64.7 L381.3,66.4 L381.2,68.1 L381.1,69.6 L381.1,70.9 L381.0,71.8 L385.0,72.2 L385.1,71.3 L385.3,70.0 L385.5,68.5 L385.8,66.8 L386.0,65.1 L386.2,63.3 L386.4,61.6 L386.5,60.0 L386.6,58.6 L386.6,57.2 L386.5,55.8 L386.5,54.5 L386.4,53.2 L386.2,51.9 L386.1,50.6 L385.9,49.4 L385.6,48.1 L385.3,47.0 L385.0,45.8 L384.7,44.7 L384.3,43.6 L383.9,42.5 L383.4,41.5 L382.9,40.4 L382.3,39.3 L381.7,38.3 L381.1,37.3 L380.4,36.3 L379.7,35.4 L379.0,34.5 L378.3,33.7 L377.6,33.0 L376.9,32.2 L376.1,31.4 L375.3,30.8 L374.5,30.1 L373.8,29.5 L373.0,28.9 L372.3,28.4 L371.6,27.8 L370.8,27.2 L370.0,26.5 L369.2,25.8 L368.4,25.1 L367.7,24.5 L367.0,23.9 L366.4,23.4 L366.0,23.0Z" fill="#7ed62c"/>
<path d="M403.2,32.1 L402.8,31.5 L402.3,30.6 L401.6,29.7 L400.9,28.7 L400.0,27.8 L399.1,27.1 L398.1,26.5 L397.2,26.1 L396.4,25.8 L395.5,25.5 L394.7,25.1 L393.9,24.8 L393.1,24.5 L392.3,24.2 L391.5,23.9 L390.8,23.6 L389.9,23.4 L389.1,23.2 L388.3,23.1 L387.6,22.9 L386.9,22.8 L386.3,22.7 L385.8,22.6 L385.4,22.6 L384.6,25.4 L385.0,25.6 L385.5,25.8 L386.0,26.0 L386.7,26.2 L387.3,26.5 L388.0,26.8 L388.6,27.0 L389.2,27.4 L389.8,27.7 L390.5,28.1 L391.1,28.5 L391.8,28.9 L392.5,29.4 L393.2,29.9 L394.0,30.4 L394.8,30.9 L395.7,31.4 L396.7,31.8 L397.8,32.1 L399.1,32.3 L400.3,32.3 L401.5,32.2 L402.5,32.2 L403.2,32.1Z" fill="#9fe03a"/>
<path d="M409.0,4.5 L408.5,4.8 L407.8,5.3 L407.0,5.8 L406.1,6.4 L405.1,7.0 L404.2,7.6 L403.4,8.3 L402.7,8.9 L402.1,9.5 L401.7,10.0 L401.3,10.5 L400.9,10.9 L400.6,11.4 L400.2,12.0 L399.7,12.7 L399.1,13.7 L398.3,14.8 L397.3,16.2 L396.2,17.7 L395.1,19.3 L393.9,21.0 L392.7,22.7 L391.6,24.4 L390.5,26.1 L389.5,27.7 L388.6,29.3 L387.7,31.0 L386.8,32.6 L385.9,34.3 L385.0,35.9 L384.2,37.4 L383.4,38.8 L382.6,40.2 L381.8,41.4 L381.0,42.7 L380.2,43.9 L379.5,45.1 L378.7,46.3 L378.0,47.6 L377.3,48.9 L376.7,50.2 L376.0,51.5 L375.4,52.8 L374.8,54.1 L374.3,55.5 L373.8,56.8 L373.3,58.2 L372.9,59.7 L372.5,61.3 L372.2,63.0 L371.9,64.7 L371.6,66.5 L371.4,68.2 L371.3,69.7 L371.1,70.9 L371.0,71.9 L373.0,72.1 L373.1,71.2 L373.3,69.9 L373.5,68.5 L373.8,66.8 L374.1,65.1 L374.4,63.4 L374.7,61.8 L375.1,60.3 L375.6,59.0 L376.1,57.7 L376.6,56.4 L377.1,55.1 L377.7,53.9 L378.4,52.6 L379.0,51.4 L379.7,50.1 L380.4,48.9 L381.1,47.8 L381.8,46.6 L382.6,45.5 L383.4,44.3 L384.3,43.1 L385.1,41.8 L386.0,40.4 L386.9,38.9 L387.8,37.4 L388.7,35.8 L389.6,34.2 L390.6,32.6 L391.5,31.0 L392.5,29.5 L393.5,27.9 L394.5,26.4 L395.7,24.8 L396.9,23.1 L398.1,21.5 L399.3,19.9 L400.4,18.5 L401.4,17.1 L402.3,15.9 L403.0,15.0 L403.5,14.2 L403.9,13.6 L404.2,13.0 L404.5,12.6 L404.7,12.1 L405.0,11.7 L405.3,11.1 L405.7,10.3 L406.3,9.4 L406.8,8.5 L407.3,7.5 L407.9,6.6 L408.3,5.8 L408.7,5.0 L409.0,4.5Z" fill="#a8e070"/>
<path d="M375.5,30.5 L375.9,31.3 L376.5,32.5 L377.2,33.8 L378.0,35.3 L379.0,36.7 L380.1,38.1 L381.2,39.4 L382.3,40.6 L383.5,41.7 L384.8,42.9 L386.1,44.0 L387.5,45.2 L388.8,46.2 L389.9,47.1 L390.9,47.9 L391.6,48.5 L392.4,47.5 L391.7,46.9 L390.8,46.1 L389.7,45.1 L388.4,44.0 L387.2,42.9 L385.9,41.7 L384.7,40.5 L383.7,39.4 L382.7,38.2 L381.6,36.9 L380.5,35.5 L379.4,34.2 L378.2,33.1 L377.1,32.0 L376.2,31.1 L375.5,30.5Z" fill="#5cbf34"/>
<path d="M372.4,48.0 L372.8,49.0 L373.4,50.4 L374.0,52.0 L374.8,53.8 L375.5,55.7 L376.4,57.6 L377.1,59.5 L377.9,61.2 L378.6,62.8 L379.4,64.5 L380.2,66.1 L381.1,67.6 L381.9,69.2 L382.7,70.8 L383.4,72.4 L384.0,74.1 L384.5,75.9 L385.0,77.9 L385.5,79.9 L385.9,82.0 L386.2,84.2 L386.5,86.3 L386.8,88.3 L387.0,90.2 L387.2,92.0 L387.3,93.8 L387.3,95.7 L387.4,97.5 L387.4,99.2 L387.3,100.7 L387.3,102.0 L387.4,103.0 L390.6,103.0 L390.7,102.1 L390.8,100.8 L390.9,99.3 L391.0,97.6 L391.0,95.7 L391.1,93.8 L391.1,91.8 L391.0,89.8 L390.9,87.9 L390.7,85.8 L390.6,83.6 L390.3,81.4 L390.1,79.2 L389.7,76.9 L389.3,74.8 L388.8,72.7 L388.2,70.7 L387.5,68.8 L386.7,66.9 L385.9,65.2 L385.1,63.5 L384.1,61.9 L383.1,60.3 L382.1,58.8 L381.0,57.2 L379.7,55.6 L378.3,54.0 L376.8,52.5 L375.5,51.1 L374.2,49.8 L373.2,48.8 L372.4,48.0Z" fill="#9fe03a"/>
<path d="M381.3,53.0 L381.0,54.6 L380.6,56.8 L380.1,59.3 L379.7,62.2 L379.3,65.3 L379.0,68.5 L378.8,71.7 L378.7,74.9 L378.6,78.3 L378.5,82.2 L378.4,86.2 L378.3,90.3 L378.2,94.2 L378.1,97.8 L378.0,100.8 L378.0,103.0 L379.6,103.0 L379.8,100.8 L379.9,97.9 L380.1,94.3 L380.4,90.4 L380.6,86.3 L380.9,82.3 L381.1,78.5 L381.3,75.1 L381.5,71.9 L381.7,68.6 L381.8,65.4 L381.8,62.3 L381.7,59.4 L381.5,56.8 L381.4,54.7 L381.3,53.0Z" fill="#5cbf34"/>
<path d="M370.0,70.0 L370.0,71.6 L370.0,73.7 L370.0,76.2 L370.1,79.0 L370.1,81.9 L370.2,84.8 L370.4,87.7 L370.5,90.3 L370.7,92.7 L370.9,95.0 L371.2,97.1 L371.5,99.2 L371.7,101.4 L372.0,103.9 L372.2,106.8 L372.3,110.1 L372.4,114.2 L372.5,119.1 L372.5,124.6 L372.5,130.2 L372.5,135.7 L372.5,140.7 L372.5,144.9 L372.5,148.0 L377.5,148.0 L377.5,145.0 L377.6,140.8 L377.6,135.8 L377.7,130.3 L377.8,124.6 L377.8,119.1 L377.8,114.1 L377.7,109.9 L377.6,106.5 L377.4,103.5 L377.2,100.9 L376.9,98.6 L376.6,96.3 L376.3,94.2 L375.9,92.0 L375.5,89.7 L375.0,87.0 L374.3,84.2 L373.5,81.4 L372.7,78.5 L371.9,75.9 L371.1,73.5 L370.5,71.5 L370.0,70.0Z" fill="#86d92e"/>
<path d="M360.0,85.0 L360.1,86.2 L360.2,87.8 L360.3,89.8 L360.5,91.9 L360.9,94.1 L361.5,96.3 L362.1,98.4 L362.7,100.4 L363.3,102.3 L363.9,104.4 L364.5,106.6 L365.2,108.7 L365.8,110.7 L366.3,112.6 L366.8,114.1 L367.1,115.2 L368.9,114.8 L368.6,113.6 L368.2,112.1 L367.8,110.2 L367.3,108.2 L366.8,106.0 L366.3,103.8 L365.8,101.6 L365.3,99.6 L364.8,97.7 L364.3,95.5 L363.7,93.3 L363.0,91.2 L362.1,89.3 L361.3,87.5 L360.6,86.1 L360.0,85.0Z" fill="#5cbf34"/>
<path d="M375.0,118.0 L374.4,118.3 L373.5,118.8 L372.5,119.3 L371.4,119.9 L370.2,120.6 L369.1,121.4 L368.0,122.2 L367.1,123.1 L366.2,124.1 L365.4,125.1 L364.6,126.1 L363.9,127.2 L363.1,128.3 L362.4,129.3 L361.8,130.4 L361.1,131.5 L360.5,132.6 L359.9,133.7 L359.3,134.9 L358.8,136.1 L358.3,137.2 L357.9,138.2 L357.6,139.0 L357.3,139.7 L358.7,140.3 L359.0,139.7 L359.4,138.9 L359.9,137.9 L360.4,136.9 L361.0,135.8 L361.6,134.6 L362.2,133.5 L362.9,132.5 L363.5,131.6 L364.2,130.6 L365.0,129.6 L365.8,128.6 L366.5,127.6 L367.3,126.7 L368.2,125.7 L368.9,124.9 L369.7,124.0 L370.6,123.1 L371.5,122.1 L372.4,121.1 L373.2,120.2 L373.9,119.3 L374.5,118.6 L375.0,118.0Z" fill="#5cbf34"/>
<path d="M376.0,120.0 L376.3,120.6 L376.8,121.4 L377.4,122.3 L378.1,123.2 L378.8,124.2 L379.6,125.1 L380.4,125.9 L381.1,126.7 L381.7,127.5 L382.3,128.5 L382.9,129.6 L383.5,130.8 L384.1,131.9 L384.6,132.8 L385.0,133.7 L385.3,134.3 L386.7,133.7 L386.4,133.0 L386.1,132.2 L385.7,131.1 L385.2,130.0 L384.7,128.8 L384.2,127.6 L383.6,126.4 L382.9,125.3 L382.2,124.3 L381.4,123.4 L380.5,122.5 L379.4,121.8 L378.4,121.2 L377.4,120.7 L376.6,120.3 L376.0,120.0Z" fill="#86d92e"/>
<path d="M388.0,112.0 L387.5,112.9 L386.9,114.2 L386.1,115.6 L385.3,117.3 L384.6,119.1 L383.9,120.9 L383.4,122.8 L382.9,124.7 L382.4,126.6 L381.9,128.7 L381.4,130.9 L380.8,133.1 L380.4,135.2 L379.9,137.0 L379.6,138.6 L379.3,139.8 L380.7,140.2 L381.1,139.0 L381.5,137.5 L382.1,135.6 L382.7,133.5 L383.3,131.4 L383.9,129.2 L384.5,127.2 L385.1,125.3 L385.7,123.5 L386.3,121.7 L386.8,119.8 L387.2,117.9 L387.5,116.1 L387.7,114.4 L387.9,113.0 L388.0,112.0Z" fill="#5cbf34"/>
<path d="M417.0,22.0 L416.3,22.7 L415.4,23.6 L414.3,24.7 L413.0,25.9 L411.7,27.2 L410.4,28.5 L409.2,29.9 L408.0,31.3 L406.9,32.7 L405.9,34.2 L404.8,35.6 L403.9,37.2 L402.9,38.7 L402.1,40.3 L401.2,41.9 L400.5,43.6 L399.8,45.2 L399.2,46.8 L398.7,48.5 L398.1,50.3 L397.5,52.2 L396.9,54.1 L396.4,56.1 L395.8,58.2 L395.3,60.5 L394.9,62.7 L394.4,65.1 L394.0,67.5 L393.6,69.9 L393.2,72.4 L392.8,74.7 L392.5,77.1 L392.3,79.4 L392.0,81.7 L391.9,83.9 L391.7,86.1 L391.6,88.3 L391.5,90.4 L391.4,92.5 L391.3,94.5 L391.2,96.3 L391.1,97.8 L391.0,99.3 L390.9,100.8 L390.8,102.5 L390.8,104.5 L390.8,107.0 L391.0,110.0 L391.2,114.0 L391.5,118.9 L391.9,124.3 L392.3,130.0 L392.8,135.6 L393.2,140.7 L393.5,145.0 L393.8,148.1 L398.2,147.9 L398.3,144.8 L398.4,140.6 L398.4,135.4 L398.5,129.8 L398.6,124.1 L398.8,118.7 L398.9,113.9 L399.0,110.0 L399.2,107.1 L399.4,104.8 L399.6,103.1 L399.7,101.6 L400.0,100.3 L400.2,98.9 L400.4,97.3 L400.7,95.5 L401.0,93.4 L401.3,91.4 L401.6,89.3 L401.9,87.2 L402.3,85.2 L402.6,83.1 L403.0,81.0 L403.5,78.9 L404.0,76.8 L404.5,74.6 L405.1,72.4 L405.7,70.1 L406.3,67.9 L406.9,65.7 L407.5,63.7 L408.2,61.8 L408.8,60.0 L409.4,58.3 L410.1,56.7 L410.8,55.1 L411.5,53.5 L412.2,51.8 L412.9,50.2 L413.5,48.4 L414.0,46.7 L414.4,44.9 L414.8,43.2 L415.1,41.5 L415.4,39.7 L415.6,38.0 L415.8,36.3 L416.0,34.7 L416.1,33.0 L416.3,31.2 L416.5,29.3 L416.6,27.5 L416.7,25.8 L416.8,24.3 L416.9,23.0 L417.0,22.0Z" fill="#7fd42b"/>
<path d="M408.6,6.2 L408.1,6.5 L407.5,6.8 L406.7,7.2 L405.9,7.7 L405.1,8.3 L404.3,8.9 L403.6,9.4 L403.0,10.0 L402.5,10.5 L402.0,11.0 L401.6,11.5 L401.1,12.0 L400.6,12.5 L400.1,13.0 L399.6,13.6 L399.1,14.1 L398.6,14.8 L398.1,15.5 L397.5,16.3 L397.0,17.1 L396.5,17.8 L396.0,18.5 L395.6,19.1 L395.3,19.5 L396.7,20.5 L397.0,20.1 L397.4,19.6 L397.9,19.0 L398.5,18.3 L399.1,17.6 L399.7,16.9 L400.3,16.2 L400.9,15.7 L401.3,15.2 L401.8,14.7 L402.3,14.3 L402.8,13.9 L403.3,13.4 L403.9,13.0 L404.4,12.5 L405.0,12.0 L405.6,11.4 L406.1,10.6 L406.7,9.8 L407.2,9.0 L407.7,8.1 L408.1,7.4 L408.4,6.7 L408.6,6.2Z" fill="#b3dca0"/>
<path d="M395.0,22.3 L395.3,22.8 L395.6,23.4 L396.0,24.2 L396.6,25.0 L397.2,25.8 L397.9,26.5 L398.6,27.1 L399.3,27.7 L400.0,28.3 L400.7,29.0 L401.5,29.7 L402.2,30.4 L402.9,31.0 L403.6,31.6 L404.1,32.1 L404.5,32.5 L405.5,31.5 L405.1,31.1 L404.6,30.6 L404.0,29.9 L403.4,29.2 L402.7,28.5 L402.0,27.7 L401.3,27.0 L400.7,26.3 L400.1,25.6 L399.4,24.9 L398.6,24.2 L397.8,23.7 L397.0,23.2 L396.2,22.8 L395.5,22.5 L395.0,22.3Z" fill="#5cbf34"/>
<path d="M406.8,81.0 L407.3,81.0 L408.0,81.0 L408.8,81.0 L409.7,81.0 L410.6,81.1 L411.4,81.2 L412.1,81.3 L412.8,81.5 L413.5,81.7 L414.2,82.0 L415.0,82.3 L415.8,82.5 L416.5,82.9 L417.1,83.3 L417.7,83.8 L418.2,84.3 L418.7,85.2 L419.1,86.5 L419.6,88.1 L419.9,89.7 L420.3,91.4 L420.5,92.9 L420.8,94.2 L421.0,95.2 L423.0,94.8 L422.9,93.9 L422.7,92.6 L422.6,91.0 L422.4,89.3 L422.1,87.5 L421.8,85.8 L421.4,84.2 L420.8,82.9 L420.0,81.7 L419.2,80.8 L418.2,80.1 L417.2,79.5 L416.2,79.1 L415.1,78.8 L414.2,78.6 L413.2,78.5 L412.2,78.5 L411.2,78.7 L410.2,79.1 L409.3,79.5 L408.5,80.0 L407.8,80.4 L407.2,80.8 L406.8,81.0Z" fill="#5cbf34"/>
<path d="M403.0,88.0 L402.6,88.9 L402.2,90.0 L401.6,91.4 L401.1,92.9 L400.6,94.5 L400.2,96.3 L399.9,98.0 L399.6,99.7 L399.3,101.6 L399.0,103.6 L398.6,105.8 L398.3,108.0 L397.9,110.1 L397.6,112.0 L397.3,113.6 L397.1,114.8 L398.9,115.2 L399.2,114.0 L399.5,112.4 L400.0,110.6 L400.5,108.5 L401.0,106.3 L401.5,104.1 L402.0,102.1 L402.4,100.3 L402.8,98.5 L403.1,96.8 L403.2,95.0 L403.3,93.2 L403.2,91.6 L403.2,90.2 L403.1,88.9 L403.0,88.0Z" fill="#86d92e"/>
<path d="M412.0,96.0 L411.6,96.9 L411.0,98.1 L410.3,99.5 L409.5,101.0 L408.8,102.7 L408.0,104.4 L407.4,106.0 L406.8,107.6 L406.3,109.1 L405.8,110.5 L405.3,112.0 L404.9,113.4 L404.4,114.9 L403.9,116.4 L403.4,118.0 L403.0,119.7 L402.5,121.6 L401.9,123.6 L401.4,125.8 L400.9,128.0 L400.4,130.1 L399.9,132.0 L399.5,133.6 L399.2,134.8 L400.8,135.2 L401.1,134.0 L401.5,132.4 L402.1,130.6 L402.6,128.5 L403.3,126.3 L403.9,124.2 L404.5,122.1 L405.0,120.3 L405.6,118.7 L406.1,117.1 L406.6,115.7 L407.1,114.2 L407.7,112.8 L408.2,111.3 L408.7,109.9 L409.2,108.4 L409.7,106.8 L410.1,105.1 L410.6,103.3 L411.0,101.5 L411.3,99.8 L411.6,98.3 L411.8,97.0 L412.0,96.0Z" fill="#5cbf34"/>
<path d="M396.0,126.0 L396.7,125.5 L397.6,124.8 L398.7,123.9 L399.8,123.0 L400.9,122.1 L401.9,121.2 L402.8,120.6 L403.5,120.2 L404.1,120.0 L404.8,120.0 L405.5,120.0 L406.3,120.2 L407.1,120.5 L407.9,120.9 L408.7,121.3 L409.3,121.8 L409.9,122.3 L410.5,123.1 L411.1,124.0 L411.6,125.0 L412.1,126.0 L412.6,127.0 L413.0,127.8 L413.3,128.3 L414.7,127.7 L414.4,127.1 L414.1,126.3 L413.7,125.3 L413.2,124.2 L412.7,123.1 L412.1,122.0 L411.4,121.0 L410.7,120.2 L409.9,119.6 L409.0,119.0 L408.1,118.5 L407.1,118.0 L406.0,117.7 L404.9,117.5 L403.7,117.6 L402.5,117.8 L401.4,118.4 L400.2,119.3 L399.2,120.5 L398.3,121.7 L397.6,123.0 L396.9,124.3 L396.4,125.3 L396.0,126.0Z" fill="#86d92e"/>
<path d="M385.0,132.0 L385.5,131.8 L386.2,131.5 L387.1,131.1 L387.9,130.6 L388.6,130.1 L389.2,129.5 L389.8,129.1 L390.2,129.0 L390.6,128.9 L391.1,129.0 L391.8,129.2 L392.4,129.5 L393.1,129.8 L393.7,130.1 L394.3,130.4 L394.7,130.6 L395.3,129.4 L394.9,129.2 L394.5,128.9 L393.9,128.5 L393.2,128.0 L392.4,127.6 L391.6,127.3 L390.7,127.0 L389.8,127.0 L388.9,127.3 L388.0,127.8 L387.2,128.4 L386.5,129.1 L386.0,130.0 L385.5,130.8 L385.2,131.5 L385.0,132.0Z" fill="#5cbf34"/>
<path d="M377.0,124.5 L377.4,123.7 L377.9,122.7 L378.6,121.5 L379.3,120.1 L380.0,118.7 L380.7,117.3 L381.3,115.9 L381.9,114.6 L382.4,113.3 L382.9,112.1 L383.4,110.9 L383.9,109.6 L384.3,108.4 L384.7,107.1 L385.0,105.9 L385.4,104.6 L385.6,103.4 L385.9,102.2 L386.1,101.0 L386.4,99.8 L386.6,98.7 L386.8,97.5 L387.0,96.4 L387.2,95.4 L387.3,94.3 L387.5,93.3 L387.6,92.2 L387.7,91.2 L387.8,90.3 L387.9,89.5 L387.9,88.8 L388.0,88.3 L384.0,87.7 L383.9,88.3 L383.8,89.0 L383.7,89.8 L383.6,90.7 L383.4,91.6 L383.2,92.6 L383.0,93.6 L382.8,94.6 L382.6,95.6 L382.4,96.6 L382.1,97.7 L381.9,98.8 L381.6,99.9 L381.3,101.1 L381.0,102.2 L380.6,103.4 L380.3,104.5 L379.9,105.7 L379.6,106.9 L379.2,108.2 L378.9,109.5 L378.6,110.8 L378.3,112.1 L378.1,113.4 L377.9,114.9 L377.7,116.4 L377.5,118.0 L377.4,119.6 L377.2,121.1 L377.1,122.5 L377.1,123.6 L377.0,124.5Z" fill="#86d92e"/>
<path d="M392.0,92.0 L391.7,93.0 L391.3,94.3 L390.9,95.9 L390.5,97.6 L390.3,99.4 L390.3,101.2 L390.6,102.9 L391.0,104.5 L391.5,106.1 L392.0,107.9 L392.5,109.7 L393.0,111.6 L393.5,113.3 L393.9,114.9 L394.2,116.2 L394.5,117.2 L397.5,116.8 L397.4,115.7 L397.4,114.4 L397.3,112.7 L397.3,110.9 L397.2,109.0 L397.1,107.1 L397.1,105.2 L397.0,103.5 L396.9,101.9 L396.6,100.1 L396.0,98.4 L395.2,96.8 L394.3,95.3 L393.4,94.0 L392.6,92.8 L392.0,92.0Z" fill="#9fe03a"/>
<path d="M411.0,95.0 L410.5,95.3 L409.8,95.6 L409.0,96.0 L408.2,96.5 L407.3,97.0 L406.4,97.6 L405.6,98.3 L404.9,99.0 L404.3,99.7 L403.6,100.5 L403.0,101.3 L402.4,102.1 L401.7,103.0 L401.1,103.8 L400.6,104.6 L400.1,105.3 L399.6,106.1 L399.1,106.9 L398.7,107.6 L398.3,108.4 L398.0,109.1 L397.7,109.7 L397.4,110.2 L397.2,110.6 L398.8,111.4 L399.0,111.1 L399.3,110.6 L399.7,110.0 L400.1,109.4 L400.5,108.7 L401.0,108.0 L401.4,107.3 L401.9,106.7 L402.5,106.0 L403.1,105.3 L403.7,104.6 L404.4,103.9 L405.1,103.1 L405.8,102.4 L406.5,101.7 L407.1,101.0 L407.7,100.3 L408.3,99.5 L408.9,98.7 L409.5,97.8 L410.0,96.9 L410.4,96.2 L410.7,95.5 L411.0,95.0Z" fill="#86d92e"/>
<path d="M419.0,129.0 L419.0,128.3 L419.0,127.2 L419.0,126.0 L419.0,124.7 L418.9,123.3 L418.7,122.0 L418.4,120.7 L418.1,119.7 L417.8,118.8 L417.6,117.9 L417.3,117.0 L417.0,116.2 L416.6,115.4 L416.3,114.7 L415.8,114.0 L415.2,113.5 L414.4,113.1 L413.6,113.0 L412.9,113.1 L412.1,113.2 L411.4,113.5 L410.8,113.7 L410.2,114.0 L409.6,114.2 L409.1,114.5 L408.5,114.9 L408.0,115.3 L407.5,115.8 L407.1,116.2 L406.8,116.5 L406.5,116.8 L406.2,117.1 L407.2,118.1 L407.4,117.9 L407.8,117.6 L408.2,117.3 L408.6,116.9 L409.0,116.6 L409.5,116.2 L409.9,116.0 L410.4,115.8 L410.9,115.6 L411.4,115.4 L412.0,115.2 L412.6,115.0 L413.1,114.9 L413.5,114.9 L413.8,115.0 L414.0,115.1 L414.2,115.3 L414.5,115.7 L414.7,116.2 L415.0,116.9 L415.2,117.7 L415.4,118.5 L415.6,119.4 L415.9,120.3 L416.1,121.3 L416.5,122.5 L416.9,123.7 L417.3,125.0 L417.8,126.3 L418.3,127.4 L418.7,128.3 L419.0,129.0Z" fill="#5cbf34"/>
<path d="M400.0,134.6 L400.3,135.0 L400.7,135.4 L401.3,136.0 L401.9,136.5 L402.5,136.9 L403.2,137.3 L403.9,137.6 L404.5,137.8 L405.1,138.1 L405.6,138.5 L406.2,138.9 L406.8,139.3 L407.4,139.7 L407.9,140.0 L408.3,140.3 L408.6,140.5 L409.4,139.5 L409.1,139.2 L408.8,138.9 L408.3,138.5 L407.8,138.0 L407.3,137.5 L406.7,137.1 L406.1,136.6 L405.5,136.2 L404.9,135.8 L404.2,135.3 L403.4,135.0 L402.6,134.7 L401.9,134.6 L401.1,134.6 L400.5,134.6 L400.0,134.6Z" fill="#5cbf34"/>
<path d="M435.0,12.0 L434.6,13.0 L434.2,14.2 L433.6,15.7 L433.0,17.4 L432.4,19.2 L431.7,21.1 L431.1,22.9 L430.6,24.7 L430.2,26.5 L429.8,28.3 L429.4,30.0 L429.1,31.9 L428.8,33.7 L428.6,35.7 L428.3,37.7 L428.1,39.8 L427.9,42.0 L427.8,44.4 L427.7,46.9 L427.6,49.5 L427.6,52.1 L427.5,54.7 L427.5,57.3 L427.4,59.8 L427.4,62.3 L427.3,64.8 L427.2,67.2 L427.2,69.6 L427.1,72.1 L427.1,74.6 L427.0,77.2 L426.9,79.9 L426.9,82.6 L426.8,85.5 L426.8,88.5 L426.7,91.6 L426.6,94.6 L426.6,97.5 L426.6,100.3 L426.6,102.9 L426.6,105.5 L426.6,108.1 L426.7,110.6 L426.8,113.0 L426.8,115.2 L426.9,117.1 L427.0,118.7 L427.0,120.0 L431.0,120.0 L431.0,118.7 L431.1,117.1 L431.1,115.1 L431.1,112.9 L431.2,110.6 L431.2,108.1 L431.3,105.6 L431.4,103.1 L431.6,100.5 L431.8,97.7 L432.0,94.8 L432.2,91.8 L432.4,88.8 L432.6,85.8 L432.8,82.9 L433.1,80.1 L433.2,77.5 L433.4,74.9 L433.6,72.4 L433.8,70.0 L434.0,67.5 L434.2,65.1 L434.4,62.7 L434.6,60.2 L434.8,57.6 L435.0,55.1 L435.2,52.5 L435.4,49.9 L435.5,47.3 L435.7,44.9 L435.9,42.5 L435.9,40.2 L435.9,38.1 L435.9,36.0 L435.8,34.1 L435.8,32.3 L435.7,30.5 L435.6,28.7 L435.5,27.0 L435.4,25.3 L435.3,23.5 L435.2,21.6 L435.2,19.6 L435.1,17.7 L435.1,16.0 L435.1,14.4 L435.0,13.0 L435.0,12.0Z" fill="#c4e6a0"/>
<path d="M411.0,4.5 L411.3,5.0 L411.7,5.6 L412.2,6.4 L412.7,7.3 L413.2,8.2 L413.8,9.1 L414.3,10.1 L414.8,11.0 L415.3,11.9 L415.9,12.8 L416.4,13.7 L416.9,14.5 L417.3,15.3 L417.7,16.2 L417.9,17.0 L418.2,18.0 L418.3,19.1 L418.4,20.4 L418.5,21.7 L418.6,23.2 L418.7,24.8 L418.8,26.5 L418.9,28.4 L419.0,30.3 L419.2,32.4 L419.4,34.7 L419.5,37.2 L419.7,39.7 L419.8,42.3 L419.9,45.0 L420.1,47.6 L420.2,50.2 L420.4,52.6 L420.5,55.0 L420.7,57.3 L420.8,59.6 L421.0,62.0 L421.1,64.5 L421.3,67.2 L421.4,70.2 L421.6,73.3 L421.8,76.5 L422.0,79.9 L422.2,83.4 L422.4,87.1 L422.5,91.1 L422.7,95.4 L422.7,100.0 L422.8,105.4 L422.7,111.8 L422.7,118.7 L422.6,125.8 L422.5,132.6 L422.4,138.9 L422.3,144.1 L422.3,147.9 L427.7,148.1 L427.9,144.2 L428.1,139.0 L428.3,132.8 L428.5,125.9 L428.8,118.9 L429.0,111.9 L429.2,105.5 L429.3,100.0 L429.3,95.3 L429.2,90.9 L429.2,86.9 L429.1,83.1 L428.9,79.6 L428.8,76.2 L428.7,73.0 L428.6,69.8 L428.5,66.9 L428.4,64.1 L428.3,61.6 L428.2,59.2 L428.1,56.9 L428.0,54.6 L427.9,52.2 L427.8,49.8 L427.7,47.3 L427.6,44.7 L427.5,42.0 L427.5,39.4 L427.4,36.8 L427.3,34.3 L427.1,31.9 L427.0,29.7 L426.8,27.6 L426.5,25.7 L426.2,23.9 L425.9,22.2 L425.5,20.5 L425.0,19.0 L424.5,17.4 L423.8,16.0 L423.1,14.6 L422.2,13.4 L421.4,12.4 L420.5,11.6 L419.6,10.8 L418.7,10.2 L418.0,9.6 L417.2,9.0 L416.4,8.3 L415.5,7.6 L414.6,7.0 L413.7,6.4 L412.8,5.8 L412.1,5.3 L411.5,4.8 L411.0,4.5Z" fill="#b8e445"/>
<path d="M432.0,4.5 L431.3,4.6 L430.3,4.8 L429.1,4.9 L427.9,5.2 L426.6,5.7 L425.4,6.3 L424.4,7.0 L423.5,7.9 L422.8,8.9 L422.2,9.9 L421.7,10.9 L421.2,12.0 L420.7,13.0 L420.3,14.1 L419.9,15.1 L419.6,16.2 L419.3,17.3 L419.2,18.5 L419.1,19.6 L419.0,20.7 L419.0,21.7 L419.1,22.6 L419.1,23.3 L419.1,23.8 L422.9,24.2 L423.0,23.6 L423.2,22.9 L423.3,22.1 L423.5,21.2 L423.6,20.2 L423.9,19.3 L424.1,18.5 L424.4,17.8 L424.8,17.1 L425.2,16.4 L425.7,15.6 L426.2,14.8 L426.8,14.1 L427.3,13.4 L427.9,12.7 L428.5,12.1 L429.0,11.4 L429.6,10.5 L430.1,9.5 L430.6,8.4 L431.1,7.2 L431.5,6.2 L431.8,5.2 L432.0,4.5Z" fill="#b8e445"/>
<path d="M441.0,18.0 L440.6,19.3 L440.1,21.0 L439.4,23.1 L438.8,25.4 L438.1,27.8 L437.4,30.3 L436.9,32.6 L436.4,34.8 L436.1,36.7 L435.8,38.7 L435.5,40.6 L435.3,42.5 L435.2,44.3 L435.1,46.2 L435.1,48.1 L435.1,50.0 L435.1,51.9 L435.2,53.8 L435.2,55.7 L435.3,57.6 L435.4,59.5 L435.6,61.4 L435.7,63.3 L435.9,65.2 L436.1,67.1 L436.4,69.0 L436.7,70.9 L437.0,72.8 L437.4,74.7 L437.7,76.5 L438.0,78.4 L438.2,80.2 L438.4,82.1 L438.6,84.2 L438.8,86.4 L439.0,88.5 L439.2,90.6 L439.3,92.4 L439.4,93.9 L439.5,95.1 L442.5,94.9 L442.5,93.8 L442.4,92.2 L442.3,90.4 L442.3,88.3 L442.2,86.2 L442.1,84.0 L441.9,81.8 L441.8,79.8 L441.6,77.9 L441.4,76.0 L441.1,74.1 L440.9,72.2 L440.6,70.3 L440.4,68.5 L440.2,66.6 L440.1,64.8 L440.0,63.0 L439.9,61.1 L439.8,59.3 L439.8,57.4 L439.8,55.6 L439.8,53.7 L439.8,51.9 L439.9,50.0 L440.0,48.2 L440.1,46.4 L440.2,44.6 L440.3,42.8 L440.4,41.0 L440.5,39.1 L440.5,37.2 L440.6,35.2 L440.7,33.1 L440.7,30.7 L440.8,28.2 L440.9,25.7 L440.9,23.3 L441.0,21.2 L441.0,19.4 L441.0,18.0Z" fill="#86d92e"/>
<path d="M437.3,48.0 L437.2,49.6 L437.2,51.7 L437.1,54.2 L437.1,57.0 L437.1,60.1 L437.2,63.3 L437.3,66.7 L437.5,70.1 L437.8,73.9 L438.0,78.3 L438.2,83.1 L438.5,87.9 L438.7,92.6 L438.8,96.8 L439.0,100.4 L439.1,103.0 L440.9,103.0 L440.9,100.4 L440.8,96.8 L440.8,92.5 L440.8,87.8 L440.7,83.0 L440.6,78.2 L440.6,73.8 L440.5,69.9 L440.3,66.5 L440.0,63.1 L439.6,59.9 L439.1,56.9 L438.6,54.1 L438.1,51.7 L437.6,49.6 L437.3,48.0Z" fill="#b3dca0"/>
<path d="M445.0,107.0 L444.3,107.5 L443.4,108.2 L442.3,109.1 L441.2,110.0 L440.0,111.0 L438.8,112.1 L437.8,113.0 L436.9,113.9 L436.1,114.7 L435.3,115.4 L434.6,116.1 L433.8,116.8 L433.1,117.4 L432.4,118.1 L431.6,118.8 L431.0,119.5 L430.4,120.3 L429.8,120.9 L429.2,121.6 L428.7,122.3 L428.2,123.0 L427.7,123.8 L427.3,124.6 L426.9,125.5 L426.5,126.6 L426.2,127.7 L425.9,128.9 L425.7,130.1 L425.5,131.3 L425.3,132.3 L425.2,133.2 L425.1,133.8 L426.9,134.2 L427.1,133.6 L427.3,132.7 L427.5,131.7 L427.8,130.6 L428.1,129.4 L428.4,128.3 L428.7,127.3 L429.1,126.5 L429.5,125.8 L429.9,125.1 L430.3,124.5 L430.8,123.9 L431.3,123.3 L431.8,122.7 L432.4,122.1 L433.0,121.5 L433.6,120.8 L434.3,120.3 L435.0,119.7 L435.8,119.1 L436.6,118.4 L437.4,117.7 L438.3,117.0 L439.1,116.1 L440.0,115.1 L440.9,113.9 L441.8,112.6 L442.6,111.3 L443.4,110.0 L444.0,108.8 L444.6,107.7 L445.0,107.0Z" fill="#86d92e"/>
<path d="M440.0,130.0 L439.6,129.5 L439.2,128.9 L438.6,128.0 L437.9,127.2 L437.1,126.4 L436.2,125.6 L435.3,125.1 L434.2,124.7 L433.2,124.7 L432.3,124.8 L431.4,125.0 L430.5,125.3 L429.6,125.6 L428.8,126.1 L428.0,126.6 L427.3,127.2 L426.6,127.9 L426.0,128.8 L425.4,129.7 L424.8,130.7 L424.4,131.6 L423.9,132.4 L423.6,133.1 L423.3,133.6 L424.7,134.4 L425.0,133.9 L425.4,133.2 L425.9,132.4 L426.4,131.6 L427.0,130.7 L427.6,129.9 L428.1,129.3 L428.7,128.8 L429.3,128.4 L429.9,128.1 L430.6,127.7 L431.3,127.5 L432.0,127.3 L432.6,127.2 L433.2,127.2 L433.8,127.3 L434.3,127.4 L435.0,127.7 L435.9,128.1 L436.9,128.6 L437.8,129.0 L438.7,129.4 L439.4,129.8 L440.0,130.0Z" fill="#86d92e"/>
<path d="M412.0,120.0 L412.3,120.7 L412.8,121.6 L413.4,122.7 L414.1,123.8 L414.8,125.0 L415.5,126.2 L416.3,127.4 L417.0,128.5 L417.6,129.8 L418.3,131.3 L418.9,133.0 L419.5,134.8 L420.1,136.4 L420.6,138.0 L421.0,139.3 L421.3,140.2 L422.7,139.8 L422.4,138.8 L422.1,137.5 L421.7,136.0 L421.2,134.2 L420.7,132.4 L420.2,130.7 L419.6,129.0 L419.0,127.5 L418.3,126.1 L417.5,124.9 L416.5,123.7 L415.4,122.7 L414.4,121.8 L413.4,121.1 L412.6,120.5 L412.0,120.0Z" fill="#5cbf34"/>
<rect x="318.5" y="151" width="23.8" height="57.5" fill="#c4aa86"/>
<rect x="318.5" y="151" width="23.8" height="20" fill="#d2cec6" opacity="0.85"/>
<rect x="318.5" y="170.5" width="23.8" height="7" fill="#b7bf7e" opacity="0.55"/>
<path d="M323.5,144.6 H341.8 L342.3,151 H318.5 Z" fill="#b5aca2"/>
<rect x="342.3" y="151" width="23.2" height="57.5" fill="#c4ab88"/>
<rect x="342.3" y="151" width="23.2" height="20" fill="#d2cec6" opacity="0.85"/>
<rect x="342.3" y="170.5" width="23.2" height="7" fill="#b7bf7e" opacity="0.55"/>
<path d="M342.3,144.6 H365.0 L365.5,151 H342.3 Z" fill="#b5aca2"/>
<rect x="365.5" y="151" width="21.7" height="57.5" fill="#c3ae8f"/>
<rect x="365.5" y="151" width="21.7" height="20" fill="#d2cec6" opacity="0.85"/>
<rect x="365.5" y="170.5" width="21.7" height="7" fill="#b7bf7e" opacity="0.55"/>
<path d="M365.5,144.6 H386.7 L387.2,151 H365.5 Z" fill="#b5aca2"/>
<rect x="387.2" y="151" width="22.1" height="57.5" fill="#c2b095"/>
<rect x="387.2" y="151" width="22.1" height="20" fill="#d2cec6" opacity="0.85"/>
<rect x="387.2" y="170.5" width="22.1" height="7" fill="#b7bf7e" opacity="0.55"/>
<path d="M387.2,144.6 H408.8 L409.3,151 H387.2 Z" fill="#b5aca2"/>
<rect x="409.3" y="151" width="23.0" height="57.5" fill="#c3b299"/>
<rect x="409.3" y="151" width="23.0" height="20" fill="#d2cec6" opacity="0.85"/>
<rect x="409.3" y="170.5" width="23.0" height="7" fill="#b7bf7e" opacity="0.55"/>
<path d="M409.3,144.6 H431.8 L432.3,151 H409.3 Z" fill="#b5aca2"/>
<rect x="318.5" y="204.5" width="113.8" height="4" fill="#d3c8ba"/>
<path d="M318.5,151 L323.5,144.6 H431.8" stroke="#b8b2aa" stroke-width="1" fill="none"/>
<g stroke="#625f6c" stroke-width="1.6">
<line x1="318.5" y1="160" x2="318.5" y2="208.5"/>
<line x1="342.3" y1="160" x2="342.3" y2="208.5"/>
<line x1="365.5" y1="160" x2="365.5" y2="208.5"/>
<line x1="387.2" y1="160" x2="387.2" y2="208.5"/>
<line x1="409.3" y1="160" x2="409.3" y2="208.5"/>
<line x1="432.3" y1="160" x2="432.3" y2="208.5"/>
</g>
<g stroke="#9e9a98" stroke-width="1.3">
<line x1="318.5" y1="145" x2="318.5" y2="161"/>
<line x1="342.3" y1="145" x2="342.3" y2="161"/>
<line x1="365.5" y1="145" x2="365.5" y2="161"/>
<line x1="387.2" y1="145" x2="387.2" y2="161"/>
<line x1="409.3" y1="145" x2="409.3" y2="161"/>
<line x1="432.3" y1="145" x2="432.3" y2="161"/>
</g>
<g stroke="#dedad4" stroke-width="0.8" opacity="0.8">
<line x1="319.9" y1="151" x2="319.9" y2="205"/>
<line x1="343.7" y1="151" x2="343.7" y2="205"/>
<line x1="366.9" y1="151" x2="366.9" y2="205"/>
<line x1="388.6" y1="151" x2="388.6" y2="205"/>
<line x1="410.7" y1="151" x2="410.7" y2="205"/>
</g>
<rect x="329.0" y="140" width="3" height="12" fill="#7cc843"/>
<rect x="333.0" y="140" width="2.5" height="12" fill="#7cc843"/>
<rect x="350.0" y="140" width="3" height="12" fill="#7cc843"/>
<rect x="355.0" y="140" width="2.5" height="12" fill="#7cc843"/>
<rect x="373.0" y="140" width="3" height="12" fill="#7cc843"/>
<rect x="377.0" y="140" width="2" height="12" fill="#7cc843"/>
<rect x="395.0" y="140" width="3" height="12" fill="#7cc843"/>
<rect x="399.0" y="140" width="2" height="12" fill="#7cc843"/>
<rect x="421.0" y="140" width="3" height="12" fill="#7cc843"/>
<rect x="426.0" y="140" width="2.5" height="12" fill="#7cc843"/>
<rect x="322.5" y="151.8" width="14.2" height="11.4" fill="#8bd08a"/>
<text x="329.6" y="160.4" text-anchor="middle" font-family="Liberation Serif, serif" font-size="7.6" fill="#f4fbf0" textLength="7" lengthAdjust="spacingAndGlyphs">CF</text>
<rect x="346.8" y="151.8" width="14.2" height="11.4" fill="#8bd08a"/>
<text x="353.9" y="160.4" text-anchor="middle" font-family="Liberation Serif, serif" font-size="7.6" fill="#f4fbf0" textLength="7" lengthAdjust="spacingAndGlyphs">FM</text>
<rect x="369.5" y="151.8" width="14.7" height="11.4" fill="#8bd08a"/>
<text x="376.9" y="160.4" text-anchor="middle" font-family="Liberation Serif, serif" font-size="7.6" fill="#f4fbf0" textLength="7.5" lengthAdjust="spacingAndGlyphs">FH1</text>
<rect x="390.2" y="151.8" width="16.2" height="11.4" fill="#8bd08a"/>
<text x="398.3" y="160.4" text-anchor="middle" font-family="Liberation Serif, serif" font-size="7.6" fill="#f4fbf0" textLength="7.5" lengthAdjust="spacingAndGlyphs">FH2</text>
<rect x="411.8" y="151.8" width="16.8" height="11.4" fill="#8bd08a"/>
<text x="420.2" y="160.4" text-anchor="middle" font-family="Liberation Serif, serif" font-size="7.6" fill="#f4fbf0" textLength="7.5" lengthAdjust="spacingAndGlyphs">FH3</text>
<path d="M352.0,139.0 L351.5,138.5 L350.9,137.8 L350.2,136.9 L349.4,136.0 L348.5,135.0 L347.5,134.2 L346.5,133.4 L345.5,132.8 L344.5,132.4 L343.6,132.1 L342.6,131.9 L341.6,131.8 L340.6,131.7 L339.7,131.7 L338.7,131.7 L337.8,131.9 L336.9,132.1 L336.0,132.4 L335.1,132.7 L334.2,133.1 L333.4,133.6 L332.6,134.1 L331.9,134.7 L331.3,135.4 L330.7,136.2 L330.3,137.1 L330.0,138.0 L329.8,139.0 L329.6,139.9 L329.5,140.7 L329.4,141.3 L329.2,141.8 L330.8,142.2 L330.9,141.7 L331.1,141.0 L331.2,140.2 L331.5,139.4 L331.7,138.6 L332.0,137.8 L332.4,137.1 L332.7,136.6 L333.2,136.2 L333.8,135.8 L334.4,135.4 L335.1,135.0 L335.9,134.7 L336.7,134.4 L337.4,134.3 L338.2,134.1 L338.9,134.1 L339.7,134.1 L340.5,134.1 L341.3,134.2 L342.1,134.4 L342.9,134.6 L343.7,134.9 L344.5,135.2 L345.3,135.5 L346.3,136.0 L347.4,136.6 L348.5,137.1 L349.6,137.7 L350.5,138.3 L351.4,138.7 L352.0,139.0Z" fill="#7cc843"/>
<path d="M318.0,128.0 L318.4,128.5 L318.9,129.1 L319.6,129.8 L320.3,130.7 L321.0,131.5 L321.8,132.3 L322.5,133.1 L323.2,133.8 L323.9,134.5 L324.6,135.1 L325.3,135.8 L326.0,136.5 L326.6,137.2 L327.2,138.0 L327.8,138.7 L328.2,139.4 L328.6,140.2 L329.0,141.1 L329.3,142.1 L329.6,143.0 L329.8,144.0 L330.0,144.9 L330.2,145.6 L330.4,146.2 L331.6,145.8 L331.5,145.3 L331.4,144.6 L331.2,143.7 L331.0,142.7 L330.8,141.7 L330.5,140.6 L330.2,139.6 L329.8,138.6 L329.3,137.7 L328.7,136.9 L328.1,136.0 L327.5,135.2 L326.8,134.4 L326.1,133.7 L325.5,132.9 L324.8,132.2 L324.0,131.5 L323.1,130.8 L322.1,130.2 L321.1,129.6 L320.2,129.1 L319.3,128.6 L318.6,128.3 L318.0,128.0Z" fill="#6cc040"/>
<path d="M383.0,137.0 L382.5,136.5 L381.9,135.8 L381.2,135.0 L380.3,134.1 L379.4,133.3 L378.4,132.6 L377.3,132.1 L376.2,131.8 L375.2,131.8 L374.2,131.9 L373.3,132.1 L372.3,132.4 L371.5,132.8 L370.7,133.2 L370.0,133.7 L369.3,134.4 L368.8,135.1 L368.4,136.0 L368.1,137.0 L367.8,137.9 L367.7,138.9 L367.5,139.7 L367.4,140.3 L367.3,140.8 L368.7,141.2 L368.8,140.7 L369.0,140.0 L369.2,139.2 L369.4,138.3 L369.7,137.5 L370.0,136.7 L370.3,136.1 L370.7,135.6 L371.1,135.3 L371.7,134.9 L372.4,134.6 L373.0,134.4 L373.8,134.2 L374.5,134.1 L375.2,134.1 L375.8,134.2 L376.5,134.4 L377.3,134.7 L378.3,135.1 L379.4,135.6 L380.5,136.1 L381.5,136.5 L382.4,136.8 L383.0,137.0Z" fill="#7cc843"/>
<path d="M446.0,143.0 L445.6,142.6 L445.1,142.1 L444.5,141.5 L443.7,140.9 L443.0,140.2 L442.1,139.6 L441.3,139.1 L440.5,138.7 L439.7,138.3 L438.9,138.1 L438.1,137.9 L437.2,137.7 L436.4,137.6 L435.5,137.5 L434.6,137.6 L433.8,137.7 L432.9,137.9 L432.1,138.2 L431.3,138.6 L430.6,139.1 L429.9,139.6 L429.3,140.1 L428.7,140.7 L428.1,141.3 L427.7,142.0 L427.3,142.8 L427.0,143.6 L426.7,144.4 L426.5,145.1 L426.4,145.8 L426.3,146.3 L426.1,146.7 L427.9,147.3 L428.0,146.9 L428.2,146.3 L428.4,145.7 L428.6,145.0 L428.9,144.3 L429.2,143.7 L429.5,143.1 L429.9,142.7 L430.3,142.3 L430.8,141.9 L431.3,141.5 L431.9,141.2 L432.5,140.9 L433.1,140.6 L433.7,140.4 L434.2,140.3 L434.8,140.3 L435.4,140.3 L436.0,140.4 L436.7,140.5 L437.3,140.7 L438.1,141.0 L438.8,141.2 L439.5,141.3 L440.3,141.5 L441.1,141.8 L442.1,142.0 L443.0,142.3 L443.9,142.5 L444.8,142.7 L445.5,142.9 L446.0,143.0Z" fill="#8fd84a"/>
<path d="M410.0,131.0 L409.5,131.0 L408.8,131.0 L408.0,131.0 L407.1,131.0 L406.2,131.1 L405.2,131.3 L404.3,131.6 L403.4,132.0 L402.6,132.5 L401.9,133.1 L401.2,133.7 L400.5,134.4 L399.8,135.1 L399.2,135.9 L398.6,136.7 L398.1,137.5 L397.7,138.5 L397.4,139.5 L397.1,140.6 L396.9,141.6 L396.7,142.6 L396.5,143.5 L396.4,144.3 L396.3,144.8 L397.7,145.2 L397.9,144.6 L398.0,143.8 L398.3,143.0 L398.5,142.0 L398.8,141.0 L399.1,140.1 L399.5,139.2 L399.9,138.5 L400.3,137.8 L400.8,137.2 L401.4,136.6 L402.0,136.0 L402.7,135.4 L403.3,134.9 L404.0,134.4 L404.6,134.0 L405.2,133.6 L405.9,133.2 L406.7,132.8 L407.5,132.3 L408.3,131.9 L409.0,131.6 L409.6,131.3 L410.0,131.0Z" fill="#6cc040"/>
<path d="M340.0,125.0 L340.4,125.6 L340.9,126.3 L341.5,127.2 L342.2,128.1 L342.9,129.0 L343.7,129.9 L344.5,130.7 L345.1,131.6 L345.8,132.5 L346.4,133.7 L347.0,134.9 L347.6,136.2 L348.2,137.4 L348.7,138.6 L349.1,139.5 L349.4,140.3 L350.6,139.7 L350.3,139.0 L350.0,138.1 L349.6,136.9 L349.1,135.6 L348.6,134.2 L348.1,132.8 L347.5,131.6 L346.9,130.4 L346.1,129.4 L345.3,128.4 L344.3,127.5 L343.3,126.8 L342.3,126.2 L341.4,125.7 L340.6,125.3 L340.0,125.0Z" fill="#6cc040"/>
</g></g>
<g clip-path="url(#ci)">
<rect x="444" y="3" width="104" height="141" fill="url(#insg)"/>
<rect x="444" y="3" width="104" height="4.5" fill="#303238"/>
<rect x="444" y="18.3" width="104" height="3" fill="#e4e7e3"/>
<rect x="444" y="27.3" width="104" height="2.2" fill="#dfe2de"/>
<ellipse cx="478" cy="52" rx="8" ry="7" fill="#7f9a45" opacity="0.8" filter="url(#bl2)"/>
<ellipse cx="482" cy="58" rx="5" ry="6" fill="#6f9a3a" opacity="0.7" filter="url(#bl2)"/>
<ellipse cx="498" cy="54" rx="8" ry="4" fill="#8a9a50" opacity="0.6" filter="url(#bl2)"/>
<ellipse cx="518" cy="57" rx="8" ry="6" fill="#839a48" opacity="0.7" filter="url(#bl2)"/>
<ellipse cx="541" cy="52" rx="6" ry="6" fill="#6f9e3a" opacity="0.8" filter="url(#bl2)"/>
<ellipse cx="455" cy="53" rx="8" ry="5" fill="#8e9a5a" opacity="0.5" filter="url(#bl2)"/>
<rect x="444" y="131" width="104" height="12" fill="#b9b2a9"/>
<rect x="444" y="134.5" width="104" height="0.8" fill="#8a8690"/>
<rect x="444" y="138.5" width="104" height="0.8" fill="#8a8690"/>
<rect x="452.5" y="4" width="1.7" height="38" fill="#b07a72"/>
<rect x="456.0" y="4" width="1.7" height="38" fill="#a86c64"/>
<rect x="474.1" y="4" width="1.7" height="40" fill="#c8c890"/>
<rect x="495.4" y="4" width="1.7" height="38" fill="#d0c890"/>
<rect x="514.9" y="4" width="1.7" height="40" fill="#b07060"/>
<rect x="518.0" y="4" width="1.7" height="14" fill="#6ab060"/>
<rect x="533.4" y="4" width="1.7" height="40" fill="#b8705a"/>
<rect x="538.5" y="4" width="1.7" height="38" fill="#a8605a"/>
<path d="M468,9 L474,12 L476,24 L471,20 Z" fill="#5cb85c"/>
<path d="M508,10 L512,12 L513,20 L509,18 Z" fill="#5cb85c"/>
<g fill="#e2e5e2" opacity="0.8">
<rect x="463.2" y="7" width="1" height="122"/>
<rect x="467.3" y="7" width="1" height="122"/>
<rect x="484.0" y="7" width="1" height="122"/>
<rect x="488.1" y="7" width="1" height="122"/>
<rect x="504.7" y="7" width="1" height="122"/>
<rect x="508.8" y="7" width="1" height="122"/>
<rect x="525.6" y="7" width="1" height="122"/>
<rect x="529.7" y="7" width="1" height="122"/>
</g>
<g fill="#4a4d58">
<rect x="464.8" y="3" width="2" height="141"/>
<rect x="485.6" y="3" width="2" height="141"/>
<rect x="506.3" y="3" width="2" height="141"/>
<rect x="527.2" y="3" width="2" height="141"/>
</g>
<rect x="545.3" y="3" width="2" height="141" fill="#3a3d4a"/>
<path d="M444,3 H453 L447,32 H444 Z" fill="#2a2c32"/>
<rect x="446.2" y="30" width="1.6" height="113" fill="#5a5d66"/>
<rect x="444" y="3" width="2" height="141" fill="#25272d"/>
</g>
<rect x="432.2" y="198.8" width="41" height="12.7" fill="url(#refl)"/>
<rect x="432.2" y="198.8" width="12.6" height="12.7" fill="url(#refl2)"/>
<path d="M432.2,185 H466 V156.6 H462.6 L469.4,143.6 L476.2,156.6 H473 V198.8 H432.2 Z" fill="url(#arr)"/>
</svg></body></html>
